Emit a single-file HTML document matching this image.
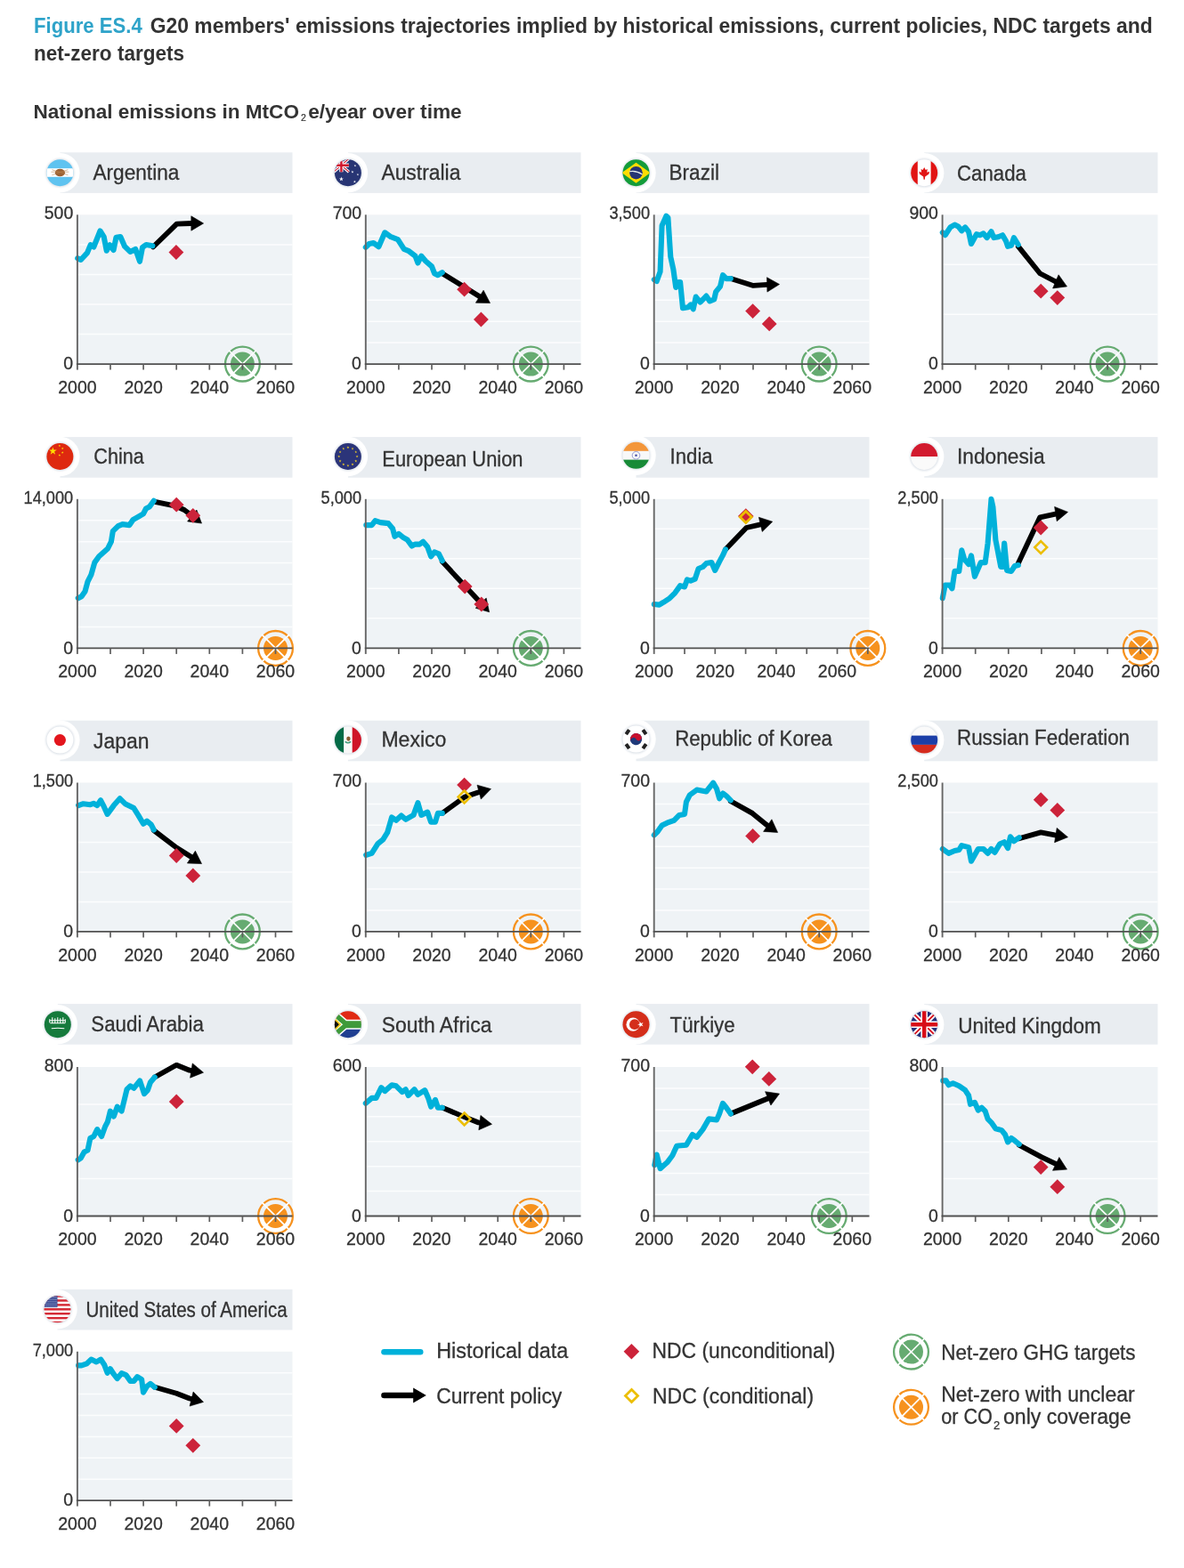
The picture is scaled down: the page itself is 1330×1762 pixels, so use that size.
<!DOCTYPE html>
<html><head><meta charset="utf-8"><title>Figure ES.4</title>
<style>
html,body{margin:0;padding:0;background:#fff;width:1330px;height:1762px;overflow:hidden}
svg{display:block}
text{font-family:"Liberation Sans",Arial,sans-serif}
</style></head><body>
<svg width="1330" height="1762" viewBox="0 0 1330 1762">
<defs><clipPath id="fc"><circle r="15"/></clipPath><filter id="sh" x="-50%" y="-50%" width="200%" height="200%"><feGaussianBlur stdDeviation="1.1"/></filter></defs>
<rect width="1330" height="1762" fill="#fff"/>
<text x="38.00" y="36.60" font-size="23" font-weight="bold" fill="#2ea3c9" textLength="121.73" lengthAdjust="spacingAndGlyphs">Figure ES.4</text>
<text x="168.70" y="36.60" font-size="23" font-weight="bold" fill="#333333" textLength="1126.09" lengthAdjust="spacingAndGlyphs">G20 members' emissions trajectories implied by historical emissions, current policies, NDC targets and</text>
<text x="38.00" y="68.20" font-size="23" font-weight="bold" fill="#333333" textLength="169.04" lengthAdjust="spacingAndGlyphs">net-zero targets</text>
<text x="37.50" y="133.30" font-size="21.5" font-weight="bold" fill="#333333" textLength="298.48" lengthAdjust="spacingAndGlyphs">National emissions in MtCO</text>
<text x="338.0" y="135.9" font-size="10.5" fill="#333" stroke="#333" stroke-width="0.2">2</text>
<text x="346.20" y="133.30" font-size="21.5" font-weight="bold" fill="#333333" textLength="172.52" lengthAdjust="spacingAndGlyphs">e/year over time</text>
<rect x="67.4" y="171.3" width="261.1" height="45.6" fill="#e9edf1"/>
<circle cx="67.4" cy="194.2" r="22.2" fill="#fff"/>
<circle cx="67.4" cy="194.2" r="16.0" fill="#d9dfe6" filter="url(#sh)"/>
<g transform="translate(67.4,194.2)" clip-path="url(#fc)"><rect x="-16" y="-16" width="32" height="32" fill="#5fc3f0"/><rect x="-16" y="-5" width="32" height="9.6" fill="#fff"/><ellipse cx="0" cy="-0.2" rx="5.6" ry="4.3" fill="#9b6133"/><path d="M-10,-1H10M-9,-3.5L9,2.5M-9,2.5L9,-3.5" stroke="#b9824c" stroke-width="0.7" opacity="0.8"/></g>
<text x="104.40" y="202.30" font-size="23.5" stroke="#333333" stroke-width="0.3" fill="#333333" textLength="97.01" lengthAdjust="spacingAndGlyphs">Argentina</text>
<rect x="86.9" y="241.3" width="241.6" height="167.8" fill="#eff3f6"/>
<line x1="87.9" y1="274.9" x2="328.5" y2="274.9" stroke="#fcfdfe" stroke-width="1.5"/>
<line x1="87.9" y1="308.4" x2="328.5" y2="308.4" stroke="#fcfdfe" stroke-width="1.5"/>
<line x1="87.9" y1="342.0" x2="328.5" y2="342.0" stroke="#fcfdfe" stroke-width="1.5"/>
<line x1="87.9" y1="375.5" x2="328.5" y2="375.5" stroke="#fcfdfe" stroke-width="1.5"/>
<circle cx="272.4" cy="409.1" r="19.4" fill="none" stroke="#66ab71" stroke-width="2.3"/><circle cx="272.4" cy="409.1" r="13.5" fill="#66ab71"/><path d="M256.8,393.5L288.0,424.7M288.0,393.5L256.8,424.7" stroke="#fff" stroke-width="1.7"/>
<polyline points="172.0,277.5 198.5,251.7 214.7,251.0 216.3,251.0" fill="none" stroke="#000" stroke-width="5.8" stroke-linejoin="round" stroke-linecap="round"/><polygon points="228.6,251.0 214.8,259.2 214.8,242.8" fill="#000" stroke="#000" stroke-width="0.6" stroke-linejoin="miter"/>
<polyline points="87.2,290.2 90.8,292.0 98.0,284.1 101.7,275.1 105.3,277.5 112.5,259.5 116.7,266.1 119.7,281.7 123.3,275.1 127.5,281.1 130.5,266.7 135.3,266.1 140.1,276.9 146.2,282.9 152.2,279.9 157.0,293.8 160.0,278.1 164.2,275.1 171.4,276.3" fill="none" stroke="#00b1da" stroke-width="6.1" stroke-linejoin="round" stroke-linecap="round"/>
<path d="M197.9,275.1L206.3,283.5L197.9,291.9L189.5,283.5Z" fill="#cc233a"/>
<line x1="86.9" y1="241.3" x2="86.9" y2="415.6" stroke="#666" stroke-width="1.9"/>
<line x1="85.9" y1="409.1" x2="328.5" y2="409.1" stroke="#505050" stroke-width="1.9"/>
<line x1="124.0" y1="409.1" x2="124.0" y2="415.6" stroke="#5e5e5e" stroke-width="1.7"/>
<line x1="161.1" y1="409.1" x2="161.1" y2="415.6" stroke="#5e5e5e" stroke-width="1.7"/>
<line x1="198.2" y1="409.1" x2="198.2" y2="415.6" stroke="#5e5e5e" stroke-width="1.7"/>
<line x1="235.3" y1="409.1" x2="235.3" y2="415.6" stroke="#5e5e5e" stroke-width="1.7"/>
<line x1="272.4" y1="409.1" x2="272.4" y2="415.6" stroke="#5e5e5e" stroke-width="1.7"/>
<line x1="309.5" y1="409.1" x2="309.5" y2="415.6" stroke="#5e5e5e" stroke-width="1.7"/>
<text x="49.74" y="246.10" font-size="19.5" fill="#333333" stroke="#333333" stroke-width="0.3">500</text>
<text x="71.18" y="415.30" font-size="19.5" fill="#333333" stroke="#333333" stroke-width="0.3">0</text>
<text x="65.21" y="441.70" font-size="19.5" fill="#333333" stroke="#333333" stroke-width="0.3">2000</text>
<text x="139.41" y="441.70" font-size="19.5" fill="#333333" stroke="#333333" stroke-width="0.3">2020</text>
<text x="213.61" y="441.70" font-size="19.5" fill="#333333" stroke="#333333" stroke-width="0.3">2040</text>
<text x="287.81" y="441.70" font-size="19.5" fill="#333333" stroke="#333333" stroke-width="0.3">2060</text>
<rect x="390.9" y="171.3" width="261.6" height="45.6" fill="#e9edf1"/>
<circle cx="390.9" cy="194.2" r="22.2" fill="#fff"/>
<circle cx="390.9" cy="194.2" r="16.0" fill="#d9dfe6" filter="url(#sh)"/>
<g transform="translate(390.9,194.2)" clip-path="url(#fc)"><rect x="-16" y="-16" width="32" height="32" fill="#283574"/><path d="M-16,-16L1,-1M1,-16L-16,-1" stroke="#fff" stroke-width="3.2"/><path d="M-16,-16L1,-1M1,-16L-16,-1" stroke="#d0142c" stroke-width="1.1"/><path d="M-7.5,-16V-1M-16,-8.5H1" stroke="#fff" stroke-width="4.2"/><path d="M-7.5,-16V-1M-16,-8.5H1" stroke="#d0142c" stroke-width="2.4"/><polygon points="-7.50,4.40 -6.92,6.20 -5.03,6.20 -6.56,7.31 -5.97,9.10 -7.50,7.99 -9.03,9.10 -8.44,7.31 -9.97,6.20 -8.08,6.20" fill="#fff"/><polygon points="5.00,-2.60 5.36,-1.49 6.52,-1.49 5.58,-0.81 5.94,0.29 5.00,-0.39 4.06,0.29 4.42,-0.81 3.48,-1.49 4.64,-1.49" fill="#fff"/><polygon points="11.00,0.70 11.29,1.60 12.24,1.60 11.47,2.15 11.76,3.05 11.00,2.50 10.24,3.05 10.53,2.15 9.76,1.60 10.71,1.60" fill="#fff"/><polygon points="7.50,8.40 7.86,9.51 9.02,9.51 8.08,10.19 8.44,11.29 7.50,10.61 6.56,11.29 6.92,10.19 5.98,9.51 7.14,9.51" fill="#fff"/><polygon points="8.00,-9.40 8.31,-8.43 9.33,-8.43 8.51,-7.83 8.82,-6.87 8.00,-7.47 7.18,-6.87 7.49,-7.83 6.67,-8.43 7.69,-8.43" fill="#fff"/></g>
<text x="428.40" y="202.30" font-size="23.5" stroke="#333333" stroke-width="0.3" fill="#333333" textLength="89.00" lengthAdjust="spacingAndGlyphs">Australia</text>
<rect x="410.8" y="241.3" width="241.7" height="167.8" fill="#eff3f6"/>
<line x1="411.8" y1="265.3" x2="652.5" y2="265.3" stroke="#fcfdfe" stroke-width="1.5"/>
<line x1="411.8" y1="289.2" x2="652.5" y2="289.2" stroke="#fcfdfe" stroke-width="1.5"/>
<line x1="411.8" y1="313.2" x2="652.5" y2="313.2" stroke="#fcfdfe" stroke-width="1.5"/>
<line x1="411.8" y1="337.2" x2="652.5" y2="337.2" stroke="#fcfdfe" stroke-width="1.5"/>
<line x1="411.8" y1="361.2" x2="652.5" y2="361.2" stroke="#fcfdfe" stroke-width="1.5"/>
<line x1="411.8" y1="385.1" x2="652.5" y2="385.1" stroke="#fcfdfe" stroke-width="1.5"/>
<circle cx="596.3" cy="409.1" r="19.4" fill="none" stroke="#66ab71" stroke-width="2.3"/><circle cx="596.3" cy="409.1" r="13.5" fill="#66ab71"/><path d="M580.7,393.5L611.9,424.7M611.9,393.5L580.7,424.7" stroke="#fff" stroke-width="1.7"/>
<polyline points="496.8,307.2 540.0,334.0" fill="none" stroke="#000" stroke-width="5.8" stroke-linejoin="round" stroke-linecap="round"/><polygon points="550.5,340.5 534.4,340.2 543.1,326.2" fill="#000" stroke="#000" stroke-width="0.6" stroke-linejoin="miter"/>
<polyline points="410.8,277.9 414.7,274.0 419.6,273.0 425.4,277.3 432.3,261.3 439.1,266.2 446.9,269.1 453.8,279.9 458.7,281.8 466.5,287.7 469.4,295.5 473.3,287.7 478.2,293.5 485.0,299.4 488.0,307.2 491.9,309.2 496.8,306.2" fill="none" stroke="#00b1da" stroke-width="6.1" stroke-linejoin="round" stroke-linecap="round"/>
<path d="M521.6,316.8L530.0,325.2L521.6,333.6L513.2,325.2Z" fill="#cc233a"/>
<path d="M540.4,350.6L548.8,359.0L540.4,367.4L532.0,359.0Z" fill="#cc233a"/>
<line x1="410.8" y1="241.3" x2="410.8" y2="415.6" stroke="#666" stroke-width="1.9"/>
<line x1="409.8" y1="409.1" x2="652.5" y2="409.1" stroke="#505050" stroke-width="1.9"/>
<line x1="447.9" y1="409.1" x2="447.9" y2="415.6" stroke="#5e5e5e" stroke-width="1.7"/>
<line x1="485.0" y1="409.1" x2="485.0" y2="415.6" stroke="#5e5e5e" stroke-width="1.7"/>
<line x1="522.1" y1="409.1" x2="522.1" y2="415.6" stroke="#5e5e5e" stroke-width="1.7"/>
<line x1="559.2" y1="409.1" x2="559.2" y2="415.6" stroke="#5e5e5e" stroke-width="1.7"/>
<line x1="596.3" y1="409.1" x2="596.3" y2="415.6" stroke="#5e5e5e" stroke-width="1.7"/>
<line x1="633.4" y1="409.1" x2="633.4" y2="415.6" stroke="#5e5e5e" stroke-width="1.7"/>
<text x="373.63" y="246.10" font-size="19.5" fill="#333333" stroke="#333333" stroke-width="0.3">700</text>
<text x="395.08" y="415.30" font-size="19.5" fill="#333333" stroke="#333333" stroke-width="0.3">0</text>
<text x="389.11" y="441.70" font-size="19.5" fill="#333333" stroke="#333333" stroke-width="0.3">2000</text>
<text x="463.31" y="441.70" font-size="19.5" fill="#333333" stroke="#333333" stroke-width="0.3">2020</text>
<text x="537.51" y="441.70" font-size="19.5" fill="#333333" stroke="#333333" stroke-width="0.3">2040</text>
<text x="611.71" y="441.70" font-size="19.5" fill="#333333" stroke="#333333" stroke-width="0.3">2060</text>
<rect x="714.5" y="171.3" width="262.0" height="45.6" fill="#e9edf1"/>
<circle cx="714.5" cy="194.2" r="22.2" fill="#fff"/>
<circle cx="714.5" cy="194.2" r="16.0" fill="#d9dfe6" filter="url(#sh)"/>
<g transform="translate(714.5,194.2)" clip-path="url(#fc)"><rect x="-16" y="-16" width="32" height="32" fill="#139c3a"/><path d="M-16,0L0,-11.5L16,0L0,11.5Z" fill="#fedd00"/><circle r="7.3" fill="#263574"/><path d="M-7.3,-1.5Q0,-3 7,1.8" stroke="#e8f0f0" stroke-width="1.1" fill="none"/></g>
<text x="751.60" y="202.30" font-size="23.5" stroke="#333333" stroke-width="0.3" fill="#333333" textLength="56.31" lengthAdjust="spacingAndGlyphs">Brazil</text>
<rect x="734.7" y="241.3" width="241.8" height="167.8" fill="#eff3f6"/>
<line x1="735.7" y1="265.3" x2="976.5" y2="265.3" stroke="#fcfdfe" stroke-width="1.5"/>
<line x1="735.7" y1="289.2" x2="976.5" y2="289.2" stroke="#fcfdfe" stroke-width="1.5"/>
<line x1="735.7" y1="313.2" x2="976.5" y2="313.2" stroke="#fcfdfe" stroke-width="1.5"/>
<line x1="735.7" y1="337.2" x2="976.5" y2="337.2" stroke="#fcfdfe" stroke-width="1.5"/>
<line x1="735.7" y1="361.2" x2="976.5" y2="361.2" stroke="#fcfdfe" stroke-width="1.5"/>
<line x1="735.7" y1="385.1" x2="976.5" y2="385.1" stroke="#fcfdfe" stroke-width="1.5"/>
<circle cx="920.2" cy="409.1" r="19.4" fill="none" stroke="#66ab71" stroke-width="2.3"/><circle cx="920.2" cy="409.1" r="13.5" fill="#66ab71"/><path d="M904.6,393.5L935.8,424.7M935.8,393.5L904.6,424.7" stroke="#fff" stroke-width="1.7"/>
<polyline points="820.8,313.1 846.2,320.9 861.8,319.9 863.2,319.9" fill="none" stroke="#000" stroke-width="5.8" stroke-linejoin="round" stroke-linecap="round"/><polygon points="875.5,319.5 861.9,328.1 861.5,311.7" fill="#000" stroke="#000" stroke-width="0.6" stroke-linejoin="miter"/>
<polyline points="734.8,314.1 737.7,316.0 741.6,305.3 743.6,253.5 748.4,242.7 750.4,244.7 753.3,288.7 756.3,302.3 759.2,322.9 762.1,317.0 764.1,317.0 767.0,346.3 772.9,345.3 775.8,342.4 778.7,347.3 781.7,333.6 786.6,339.5 790.5,335.6 793.4,332.6 797.3,338.5 802.2,336.5 804.2,327.8 809.0,321.9 812.0,309.2 815.9,313.1 820.8,313.1" fill="none" stroke="#00b1da" stroke-width="6.1" stroke-linejoin="round" stroke-linecap="round"/>
<path d="M845.6,341.2L854.0,349.6L845.6,358.0L837.2,349.6Z" fill="#cc233a"/>
<path d="M864.2,355.5L872.6,363.9L864.2,372.3L855.8,363.9Z" fill="#cc233a"/>
<line x1="734.7" y1="241.3" x2="734.7" y2="415.6" stroke="#666" stroke-width="1.9"/>
<line x1="733.7" y1="409.1" x2="976.5" y2="409.1" stroke="#505050" stroke-width="1.9"/>
<line x1="771.8" y1="409.1" x2="771.8" y2="415.6" stroke="#5e5e5e" stroke-width="1.7"/>
<line x1="808.9" y1="409.1" x2="808.9" y2="415.6" stroke="#5e5e5e" stroke-width="1.7"/>
<line x1="846.0" y1="409.1" x2="846.0" y2="415.6" stroke="#5e5e5e" stroke-width="1.7"/>
<line x1="883.1" y1="409.1" x2="883.1" y2="415.6" stroke="#5e5e5e" stroke-width="1.7"/>
<line x1="920.2" y1="409.1" x2="920.2" y2="415.6" stroke="#5e5e5e" stroke-width="1.7"/>
<line x1="957.3" y1="409.1" x2="957.3" y2="415.6" stroke="#5e5e5e" stroke-width="1.7"/>
<text x="684.43" y="246.10" font-size="19.5" stroke="#333333" stroke-width="0.3" fill="#333333" textLength="45.63" lengthAdjust="spacingAndGlyphs">3,500</text>
<text x="718.98" y="415.30" font-size="19.5" fill="#333333" stroke="#333333" stroke-width="0.3">0</text>
<text x="713.01" y="441.70" font-size="19.5" fill="#333333" stroke="#333333" stroke-width="0.3">2000</text>
<text x="787.21" y="441.70" font-size="19.5" fill="#333333" stroke="#333333" stroke-width="0.3">2020</text>
<text x="861.41" y="441.70" font-size="19.5" fill="#333333" stroke="#333333" stroke-width="0.3">2040</text>
<text x="935.61" y="441.70" font-size="19.5" fill="#333333" stroke="#333333" stroke-width="0.3">2060</text>
<rect x="1038.2" y="171.3" width="262.3" height="45.6" fill="#e9edf1"/>
<circle cx="1038.2" cy="194.2" r="22.2" fill="#fff"/>
<circle cx="1038.2" cy="194.2" r="16.0" fill="#d9dfe6" filter="url(#sh)"/>
<g transform="translate(1038.2,194.2)" clip-path="url(#fc)"><rect x="-16" y="-16" width="32" height="32" fill="#fff"/><rect x="-16" y="-16" width="8.6" height="32" fill="#e11414"/><rect x="7.4" y="-16" width="8.6" height="32" fill="#e11414"/><path d="M0,-6.3L1.6,-3.3L3.6,-4.2L3.1,-0.4L5.8,-1.4L5.3,1.3L1,4.2L0.6,7.5H-0.6L-1,4.2L-5.3,1.3L-5.8,-1.4L-3.1,-0.4L-3.6,-4.2L-1.6,-3.3Z" fill="#e11414"/></g>
<text x="1075.00" y="202.80" font-size="23.5" stroke="#333333" stroke-width="0.3" fill="#333333" textLength="77.86" lengthAdjust="spacingAndGlyphs">Canada</text>
<rect x="1058.6" y="241.3" width="241.9" height="167.8" fill="#eff3f6"/>
<line x1="1059.6" y1="297.2" x2="1300.5" y2="297.2" stroke="#fcfdfe" stroke-width="1.5"/>
<line x1="1059.6" y1="353.2" x2="1300.5" y2="353.2" stroke="#fcfdfe" stroke-width="1.5"/>
<circle cx="1244.1" cy="409.1" r="19.4" fill="none" stroke="#66ab71" stroke-width="2.3"/><circle cx="1244.1" cy="409.1" r="13.5" fill="#66ab71"/><path d="M1228.5,393.5L1259.7,424.7M1259.7,393.5L1228.5,424.7" stroke="#fff" stroke-width="1.7"/>
<polyline points="1143.8,276.9 1168.2,307.2 1184.9,316.0 1187.2,317.0" fill="none" stroke="#000" stroke-width="5.8" stroke-linejoin="round" stroke-linecap="round"/><polygon points="1198.5,321.9 1182.6,324.0 1189.1,308.8" fill="#000" stroke="#000" stroke-width="0.6" stroke-linejoin="miter"/>
<polyline points="1058.8,261.3 1061.7,264.2 1067.5,255.4 1072.4,252.5 1076.3,254.4 1080.3,259.3 1084.2,255.4 1088.1,260.3 1091.0,274.0 1096.9,263.2 1100.8,264.2 1104.7,262.3 1108.6,267.1 1113.5,260.3 1116.4,267.1 1121.3,266.2 1126.2,264.2 1130.1,271.0 1132.1,276.9 1136.0,275.9 1138.9,267.1 1143.8,275.0" fill="none" stroke="#00b1da" stroke-width="6.1" stroke-linejoin="round" stroke-linecap="round"/>
<path d="M1169.2,318.8L1177.6,327.2L1169.2,335.6L1160.8,327.2Z" fill="#cc233a"/>
<path d="M1187.8,326.2L1196.2,334.6L1187.8,343.0L1179.4,334.6Z" fill="#cc233a"/>
<line x1="1058.6" y1="241.3" x2="1058.6" y2="415.6" stroke="#666" stroke-width="1.9"/>
<line x1="1057.6" y1="409.1" x2="1300.5" y2="409.1" stroke="#505050" stroke-width="1.9"/>
<line x1="1095.7" y1="409.1" x2="1095.7" y2="415.6" stroke="#5e5e5e" stroke-width="1.7"/>
<line x1="1132.8" y1="409.1" x2="1132.8" y2="415.6" stroke="#5e5e5e" stroke-width="1.7"/>
<line x1="1169.9" y1="409.1" x2="1169.9" y2="415.6" stroke="#5e5e5e" stroke-width="1.7"/>
<line x1="1207.0" y1="409.1" x2="1207.0" y2="415.6" stroke="#5e5e5e" stroke-width="1.7"/>
<line x1="1244.1" y1="409.1" x2="1244.1" y2="415.6" stroke="#5e5e5e" stroke-width="1.7"/>
<line x1="1281.2" y1="409.1" x2="1281.2" y2="415.6" stroke="#5e5e5e" stroke-width="1.7"/>
<text x="1021.43" y="246.10" font-size="19.5" fill="#333333" stroke="#333333" stroke-width="0.3">900</text>
<text x="1042.88" y="415.30" font-size="19.5" fill="#333333" stroke="#333333" stroke-width="0.3">0</text>
<text x="1036.91" y="441.70" font-size="19.5" fill="#333333" stroke="#333333" stroke-width="0.3">2000</text>
<text x="1111.11" y="441.70" font-size="19.5" fill="#333333" stroke="#333333" stroke-width="0.3">2020</text>
<text x="1185.31" y="441.70" font-size="19.5" fill="#333333" stroke="#333333" stroke-width="0.3">2040</text>
<text x="1259.51" y="441.70" font-size="19.5" fill="#333333" stroke="#333333" stroke-width="0.3">2060</text>
<rect x="67.4" y="491.1" width="261.1" height="45.6" fill="#e9edf1"/>
<circle cx="67.4" cy="513.0" r="22.2" fill="#fff"/>
<circle cx="67.4" cy="513.0" r="16.0" fill="#d9dfe6" filter="url(#sh)"/>
<g transform="translate(67.4,513.0)" clip-path="url(#fc)"><rect x="-16" y="-16" width="32" height="32" fill="#de2910"/><polygon points="-8.00,-10.60 -6.97,-7.42 -3.63,-7.42 -6.33,-5.46 -5.30,-2.28 -8.00,-4.24 -10.70,-2.28 -9.67,-5.46 -12.37,-7.42 -9.03,-7.42" fill="#ffde00"/><polygon points="-0.50,-13.40 -0.19,-12.43 0.83,-12.43 0.01,-11.83 0.32,-10.87 -0.50,-11.47 -1.32,-10.87 -1.01,-11.83 -1.83,-12.43 -0.81,-12.43" fill="#ffde00"/><polygon points="2.80,-10.40 3.11,-9.43 4.13,-9.43 3.31,-8.83 3.62,-7.87 2.80,-8.47 1.98,-7.87 2.29,-8.83 1.47,-9.43 2.49,-9.43" fill="#ffde00"/><polygon points="2.80,-5.90 3.11,-4.93 4.13,-4.93 3.31,-4.33 3.62,-3.37 2.80,-3.97 1.98,-3.37 2.29,-4.33 1.47,-4.93 2.49,-4.93" fill="#ffde00"/><polygon points="-0.50,-2.90 -0.19,-1.93 0.83,-1.93 0.01,-1.33 0.32,-0.37 -0.50,-0.97 -1.32,-0.37 -1.01,-1.33 -1.83,-1.93 -0.81,-1.93" fill="#ffde00"/></g>
<text x="105.30" y="521.20" font-size="23.5" stroke="#333333" stroke-width="0.3" fill="#333333" textLength="56.45" lengthAdjust="spacingAndGlyphs">China</text>
<rect x="86.9" y="560.8" width="241.6" height="167.6" fill="#eff3f6"/>
<line x1="87.9" y1="584.7" x2="328.5" y2="584.7" stroke="#fcfdfe" stroke-width="1.5"/>
<line x1="87.9" y1="608.7" x2="328.5" y2="608.7" stroke="#fcfdfe" stroke-width="1.5"/>
<line x1="87.9" y1="632.6" x2="328.5" y2="632.6" stroke="#fcfdfe" stroke-width="1.5"/>
<line x1="87.9" y1="656.5" x2="328.5" y2="656.5" stroke="#fcfdfe" stroke-width="1.5"/>
<line x1="87.9" y1="680.5" x2="328.5" y2="680.5" stroke="#fcfdfe" stroke-width="1.5"/>
<line x1="87.9" y1="704.4" x2="328.5" y2="704.4" stroke="#fcfdfe" stroke-width="1.5"/>
<circle cx="309.5" cy="728.4" r="19.4" fill="none" stroke="#f6921e" stroke-width="2.3"/><circle cx="309.5" cy="728.4" r="13.5" fill="#f6921e"/><path d="M293.9,712.8L325.1,743.9M325.1,712.8L293.9,743.9" stroke="#fff" stroke-width="1.7"/>
<polyline points="172.8,563.7 197.2,568.6 207.0,573.0 216.8,580.3 216.9,580.4" fill="none" stroke="#000" stroke-width="5.8" stroke-linejoin="round" stroke-linecap="round"/><polygon points="226.5,588.1 210.6,585.9 220.9,573.0" fill="#000" stroke="#000" stroke-width="0.6" stroke-linejoin="miter"/>
<polyline points="87.7,672.2 91.6,670.2 95.6,664.4 98.5,653.6 102.4,645.8 106.3,632.1 111.2,625.3 121.0,616.5 124.9,608.7 126.8,596.9 132.7,591.1 137.6,589.1 145.4,590.1 149.3,584.2 154.2,581.3 161.0,577.4 164.0,571.5 167.9,569.6 172.8,562.7" fill="none" stroke="#00b1da" stroke-width="6.1" stroke-linejoin="round" stroke-linecap="round"/>
<path d="M198.2,558.8L206.6,567.2L198.2,575.6L189.8,567.2Z" fill="#cc233a"/>
<path d="M216.8,570.9L225.2,579.3L216.8,587.7L208.4,579.3Z" fill="#cc233a"/>
<line x1="86.9" y1="560.8" x2="86.9" y2="734.9" stroke="#666" stroke-width="1.9"/>
<line x1="85.9" y1="728.4" x2="328.5" y2="728.4" stroke="#505050" stroke-width="1.9"/>
<line x1="124.0" y1="728.4" x2="124.0" y2="734.9" stroke="#5e5e5e" stroke-width="1.7"/>
<line x1="161.1" y1="728.4" x2="161.1" y2="734.9" stroke="#5e5e5e" stroke-width="1.7"/>
<line x1="198.2" y1="728.4" x2="198.2" y2="734.9" stroke="#5e5e5e" stroke-width="1.7"/>
<line x1="235.3" y1="728.4" x2="235.3" y2="734.9" stroke="#5e5e5e" stroke-width="1.7"/>
<line x1="272.4" y1="728.4" x2="272.4" y2="734.9" stroke="#5e5e5e" stroke-width="1.7"/>
<line x1="309.5" y1="728.4" x2="309.5" y2="734.9" stroke="#5e5e5e" stroke-width="1.7"/>
<text x="26.51" y="565.60" font-size="19.5" stroke="#333333" stroke-width="0.3" fill="#333333" textLength="55.77" lengthAdjust="spacingAndGlyphs">14,000</text>
<text x="71.18" y="734.55" font-size="19.5" fill="#333333" stroke="#333333" stroke-width="0.3">0</text>
<text x="65.21" y="760.95" font-size="19.5" fill="#333333" stroke="#333333" stroke-width="0.3">2000</text>
<text x="139.41" y="760.95" font-size="19.5" fill="#333333" stroke="#333333" stroke-width="0.3">2020</text>
<text x="213.61" y="760.95" font-size="19.5" fill="#333333" stroke="#333333" stroke-width="0.3">2040</text>
<text x="287.81" y="760.95" font-size="19.5" fill="#333333" stroke="#333333" stroke-width="0.3">2060</text>
<rect x="390.9" y="491.1" width="261.6" height="45.6" fill="#e9edf1"/>
<circle cx="390.9" cy="513.0" r="22.2" fill="#fff"/>
<circle cx="390.9" cy="513.0" r="16.0" fill="#d9dfe6" filter="url(#sh)"/>
<g transform="translate(390.9,513.0)" clip-path="url(#fc)"><rect x="-16" y="-16" width="32" height="32" fill="#2b3479"/><polygon points="0.00,-11.80 0.36,-10.69 1.52,-10.69 0.58,-10.01 0.94,-8.91 0.00,-9.59 -0.94,-8.91 -0.58,-10.01 -1.52,-10.69 -0.36,-10.69" fill="#e8c82a"/><polygon points="5.10,-10.43 5.46,-9.33 6.62,-9.33 5.68,-8.64 6.04,-7.54 5.10,-8.22 4.16,-7.54 4.52,-8.64 3.58,-9.33 4.74,-9.33" fill="#e8c82a"/><polygon points="8.83,-6.70 9.19,-5.59 10.36,-5.59 9.41,-4.91 9.77,-3.81 8.83,-4.49 7.89,-3.81 8.25,-4.91 7.31,-5.59 8.47,-5.59" fill="#e8c82a"/><polygon points="10.20,-1.60 10.56,-0.49 11.72,-0.49 10.78,0.19 11.14,1.29 10.20,0.61 9.26,1.29 9.62,0.19 8.68,-0.49 9.84,-0.49" fill="#e8c82a"/><polygon points="8.83,3.50 9.19,4.61 10.36,4.61 9.41,5.29 9.77,6.39 8.83,5.71 7.89,6.39 8.25,5.29 7.31,4.61 8.47,4.61" fill="#e8c82a"/><polygon points="5.10,7.23 5.46,8.34 6.62,8.34 5.68,9.02 6.04,10.13 5.10,9.44 4.16,10.13 4.52,9.02 3.58,8.34 4.74,8.34" fill="#e8c82a"/><polygon points="0.00,8.60 0.36,9.71 1.52,9.71 0.58,10.39 0.94,11.49 0.00,10.81 -0.94,11.49 -0.58,10.39 -1.52,9.71 -0.36,9.71" fill="#e8c82a"/><polygon points="-5.10,7.23 -4.74,8.34 -3.58,8.34 -4.52,9.02 -4.16,10.13 -5.10,9.44 -6.04,10.13 -5.68,9.02 -6.62,8.34 -5.46,8.34" fill="#e8c82a"/><polygon points="-8.83,3.50 -8.47,4.61 -7.31,4.61 -8.25,5.29 -7.89,6.39 -8.83,5.71 -9.77,6.39 -9.41,5.29 -10.36,4.61 -9.19,4.61" fill="#e8c82a"/><polygon points="-10.20,-1.60 -9.84,-0.49 -8.68,-0.49 -9.62,0.19 -9.26,1.29 -10.20,0.61 -11.14,1.29 -10.78,0.19 -11.72,-0.49 -10.56,-0.49" fill="#e8c82a"/><polygon points="-8.83,-6.70 -8.47,-5.59 -7.31,-5.59 -8.25,-4.91 -7.89,-3.81 -8.83,-4.49 -9.77,-3.81 -9.41,-4.91 -10.36,-5.59 -9.19,-5.59" fill="#e8c82a"/><polygon points="-5.10,-10.43 -4.74,-9.33 -3.58,-9.33 -4.52,-8.64 -4.16,-7.54 -5.10,-8.22 -6.04,-7.54 -5.68,-8.64 -6.62,-9.33 -5.46,-9.33" fill="#e8c82a"/></g>
<text x="429.30" y="523.50" font-size="23.5" stroke="#333333" stroke-width="0.3" fill="#333333" textLength="158.25" lengthAdjust="spacingAndGlyphs">European Union</text>
<rect x="410.8" y="560.8" width="241.7" height="167.6" fill="#eff3f6"/>
<line x1="411.8" y1="594.3" x2="652.5" y2="594.3" stroke="#fcfdfe" stroke-width="1.5"/>
<line x1="411.8" y1="627.8" x2="652.5" y2="627.8" stroke="#fcfdfe" stroke-width="1.5"/>
<line x1="411.8" y1="661.3" x2="652.5" y2="661.3" stroke="#fcfdfe" stroke-width="1.5"/>
<line x1="411.8" y1="694.8" x2="652.5" y2="694.8" stroke="#fcfdfe" stroke-width="1.5"/>
<circle cx="596.3" cy="728.4" r="19.4" fill="none" stroke="#66ab71" stroke-width="2.3"/><circle cx="596.3" cy="728.4" r="13.5" fill="#66ab71"/><path d="M580.7,712.8L611.9,743.9M611.9,712.8L580.7,743.9" stroke="#fff" stroke-width="1.7"/>
<polyline points="496.8,631.1 541.2,678.8" fill="none" stroke="#000" stroke-width="5.8" stroke-linejoin="round" stroke-linecap="round"/><polygon points="549.6,687.8 534.2,683.3 546.2,672.1" fill="#000" stroke="#000" stroke-width="0.6" stroke-linejoin="miter"/>
<polyline points="411.3,590.1 417.6,590.1 421.5,585.2 427.4,587.1 436.2,588.1 441.1,594.0 443.4,602.8 447.9,599.9 452.8,603.8 457.7,606.7 462.6,613.5 466.5,611.6 471.4,611.6 475.3,608.7 480.2,614.5 484.1,625.3 488.0,620.4 492.9,622.3 496.8,630.2" fill="none" stroke="#00b1da" stroke-width="6.1" stroke-linejoin="round" stroke-linecap="round"/>
<path d="M522.2,650.7L530.6,659.1L522.2,667.5L513.8,659.1Z" fill="#cc233a"/>
<path d="M540.8,670.6L549.2,679.0L540.8,687.4L532.4,679.0Z" fill="#cc233a"/>
<line x1="410.8" y1="560.8" x2="410.8" y2="734.9" stroke="#666" stroke-width="1.9"/>
<line x1="409.8" y1="728.4" x2="652.5" y2="728.4" stroke="#505050" stroke-width="1.9"/>
<line x1="447.9" y1="728.4" x2="447.9" y2="734.9" stroke="#5e5e5e" stroke-width="1.7"/>
<line x1="485.0" y1="728.4" x2="485.0" y2="734.9" stroke="#5e5e5e" stroke-width="1.7"/>
<line x1="522.1" y1="728.4" x2="522.1" y2="734.9" stroke="#5e5e5e" stroke-width="1.7"/>
<line x1="559.2" y1="728.4" x2="559.2" y2="734.9" stroke="#5e5e5e" stroke-width="1.7"/>
<line x1="596.3" y1="728.4" x2="596.3" y2="734.9" stroke="#5e5e5e" stroke-width="1.7"/>
<line x1="633.4" y1="728.4" x2="633.4" y2="734.9" stroke="#5e5e5e" stroke-width="1.7"/>
<text x="360.53" y="565.60" font-size="19.5" stroke="#333333" stroke-width="0.3" fill="#333333" textLength="45.63" lengthAdjust="spacingAndGlyphs">5,000</text>
<text x="395.08" y="734.55" font-size="19.5" fill="#333333" stroke="#333333" stroke-width="0.3">0</text>
<text x="389.11" y="760.95" font-size="19.5" fill="#333333" stroke="#333333" stroke-width="0.3">2000</text>
<text x="463.31" y="760.95" font-size="19.5" fill="#333333" stroke="#333333" stroke-width="0.3">2020</text>
<text x="537.51" y="760.95" font-size="19.5" fill="#333333" stroke="#333333" stroke-width="0.3">2040</text>
<text x="611.71" y="760.95" font-size="19.5" fill="#333333" stroke="#333333" stroke-width="0.3">2060</text>
<rect x="714.5" y="491.1" width="262.0" height="45.6" fill="#e9edf1"/>
<circle cx="714.5" cy="511.8" r="22.2" fill="#fff"/>
<circle cx="714.5" cy="511.8" r="16.0" fill="#d9dfe6" filter="url(#sh)"/>
<g transform="translate(714.5,511.8)" clip-path="url(#fc)"><rect x="-16" y="-16" width="32" height="32" fill="#f8f8f8"/><rect x="-16" y="-16" width="32" height="11" fill="#f3963a"/><rect x="-16" y="4.8" width="32" height="12" fill="#178a37"/><circle r="4.3" fill="none" stroke="#8a8fd0" stroke-width="0.9"/><circle r="1.3" fill="#4a52a8"/></g>
<text x="752.60" y="521.20" font-size="23.5" stroke="#333333" stroke-width="0.3" fill="#333333" textLength="48.07" lengthAdjust="spacingAndGlyphs">India</text>
<rect x="734.7" y="560.8" width="241.8" height="167.6" fill="#eff3f6"/>
<line x1="735.7" y1="594.3" x2="976.5" y2="594.3" stroke="#fcfdfe" stroke-width="1.5"/>
<line x1="735.7" y1="627.8" x2="976.5" y2="627.8" stroke="#fcfdfe" stroke-width="1.5"/>
<line x1="735.7" y1="661.3" x2="976.5" y2="661.3" stroke="#fcfdfe" stroke-width="1.5"/>
<line x1="735.7" y1="694.8" x2="976.5" y2="694.8" stroke="#fcfdfe" stroke-width="1.5"/>
<circle cx="974.8" cy="728.4" r="19.4" fill="none" stroke="#f6921e" stroke-width="2.3"/><circle cx="974.8" cy="728.4" r="13.5" fill="#f6921e"/><path d="M959.2,712.8L990.4,743.9M990.4,712.8L959.2,743.9" stroke="#fff" stroke-width="1.7"/>
<polyline points="814.9,617.4 838.4,593.0 851.1,590.1 855.7,589.0" fill="none" stroke="#000" stroke-width="5.8" stroke-linejoin="round" stroke-linecap="round"/><polygon points="867.7,586.2 856.2,597.4 852.4,581.3" fill="#000" stroke="#000" stroke-width="0.6" stroke-linejoin="miter"/>
<polyline points="734.8,679.0 740.6,679.6 745.5,676.7 752.3,672.2 758.2,666.3 764.1,658.1 769.0,659.5 771.9,651.3 775.8,652.6 780.7,650.7 784.6,639.0 789.5,637.0 793.4,633.1 799.3,632.1 803.2,640.9 808.1,631.1 812.0,623.9 814.9,617.4" fill="none" stroke="#00b1da" stroke-width="6.1" stroke-linejoin="round" stroke-linecap="round"/>
<path d="M837.8,571.2L846.6,580.0L837.8,588.8L829.0,580.0Z" fill="#cc233a"/>
<path d="M837.8,574.4L844.3,580.9L837.8,587.4L831.3,580.9Z" fill="none" stroke="#ecbe00" stroke-width="2.8" stroke-linejoin="miter"/>
<line x1="734.7" y1="560.8" x2="734.7" y2="734.9" stroke="#666" stroke-width="1.9"/>
<line x1="733.7" y1="728.4" x2="976.5" y2="728.4" stroke="#505050" stroke-width="1.9"/>
<line x1="769.0" y1="728.4" x2="769.0" y2="734.9" stroke="#5e5e5e" stroke-width="1.7"/>
<line x1="803.3" y1="728.4" x2="803.3" y2="734.9" stroke="#5e5e5e" stroke-width="1.7"/>
<line x1="837.6" y1="728.4" x2="837.6" y2="734.9" stroke="#5e5e5e" stroke-width="1.7"/>
<line x1="871.9" y1="728.4" x2="871.9" y2="734.9" stroke="#5e5e5e" stroke-width="1.7"/>
<line x1="906.2" y1="728.4" x2="906.2" y2="734.9" stroke="#5e5e5e" stroke-width="1.7"/>
<line x1="940.5" y1="728.4" x2="940.5" y2="734.9" stroke="#5e5e5e" stroke-width="1.7"/>
<line x1="974.8" y1="728.4" x2="974.8" y2="734.9" stroke="#5e5e5e" stroke-width="1.7"/>
<text x="684.43" y="565.60" font-size="19.5" stroke="#333333" stroke-width="0.3" fill="#333333" textLength="45.63" lengthAdjust="spacingAndGlyphs">5,000</text>
<text x="718.98" y="734.55" font-size="19.5" fill="#333333" stroke="#333333" stroke-width="0.3">0</text>
<text x="713.01" y="760.95" font-size="19.5" fill="#333333" stroke="#333333" stroke-width="0.3">2000</text>
<text x="781.61" y="760.95" font-size="19.5" fill="#333333" stroke="#333333" stroke-width="0.3">2020</text>
<text x="850.21" y="760.95" font-size="19.5" fill="#333333" stroke="#333333" stroke-width="0.3">2040</text>
<text x="918.81" y="760.95" font-size="19.5" fill="#333333" stroke="#333333" stroke-width="0.3">2060</text>
<rect x="1038.2" y="491.1" width="262.3" height="45.6" fill="#e9edf1"/>
<circle cx="1038.2" cy="513.0" r="22.2" fill="#fff"/>
<circle cx="1038.2" cy="513.0" r="16.0" fill="#d9dfe6" filter="url(#sh)"/>
<g transform="translate(1038.2,513.0)" clip-path="url(#fc)"><rect x="-16" y="-16" width="32" height="32" fill="#fafafa"/><rect x="-16" y="-16" width="32" height="16" fill="#d21a2e"/></g>
<text x="1075.00" y="521.20" font-size="23.5" stroke="#333333" stroke-width="0.3" fill="#333333" textLength="98.53" lengthAdjust="spacingAndGlyphs">Indonesia</text>
<rect x="1058.6" y="560.8" width="241.9" height="167.6" fill="#eff3f6"/>
<line x1="1059.6" y1="594.3" x2="1300.5" y2="594.3" stroke="#fcfdfe" stroke-width="1.5"/>
<line x1="1059.6" y1="627.8" x2="1300.5" y2="627.8" stroke="#fcfdfe" stroke-width="1.5"/>
<line x1="1059.6" y1="661.3" x2="1300.5" y2="661.3" stroke="#fcfdfe" stroke-width="1.5"/>
<line x1="1059.6" y1="694.8" x2="1300.5" y2="694.8" stroke="#fcfdfe" stroke-width="1.5"/>
<circle cx="1281.2" cy="728.4" r="19.4" fill="none" stroke="#f6921e" stroke-width="2.3"/><circle cx="1281.2" cy="728.4" r="13.5" fill="#f6921e"/><path d="M1265.6,712.8L1296.8,743.9M1296.8,712.8L1265.6,743.9" stroke="#fff" stroke-width="1.7"/>
<polyline points="1143.8,633.1 1168.2,581.3 1186.8,577.4 1187.3,577.3" fill="none" stroke="#000" stroke-width="5.8" stroke-linejoin="round" stroke-linecap="round"/><polygon points="1199.5,575.4 1187.2,585.7 1184.6,569.4" fill="#000" stroke="#000" stroke-width="0.6" stroke-linejoin="miter"/>
<polyline points="1058.8,672.2 1061.7,657.5 1066.6,657.5 1069.5,661.4 1072.4,641.9 1077.3,641.9 1080.3,618.4 1083.2,628.2 1088.1,634.1 1091.0,624.3 1094.9,647.8 1101.8,632.1 1106.7,632.1 1109.6,610.6 1113.5,560.8 1115.4,569.6 1118.4,606.7 1124.2,637.0 1126.2,637.0 1128.2,610.6 1131.1,640.9 1136.0,641.9 1139.9,636.0 1143.8,635.0" fill="none" stroke="#00b1da" stroke-width="6.1" stroke-linejoin="round" stroke-linecap="round"/>
<path d="M1169.2,584.6L1177.6,593.0L1169.2,601.4L1160.8,593.0Z" fill="#cc233a"/>
<path d="M1169.2,608.2L1176.1,615.1L1169.2,622.0L1162.3,615.1Z" fill="none" stroke="#ecbe00" stroke-width="2.6" stroke-linejoin="miter"/>
<line x1="1058.6" y1="560.8" x2="1058.6" y2="734.9" stroke="#666" stroke-width="1.9"/>
<line x1="1057.6" y1="728.4" x2="1300.5" y2="728.4" stroke="#505050" stroke-width="1.9"/>
<line x1="1095.7" y1="728.4" x2="1095.7" y2="734.9" stroke="#5e5e5e" stroke-width="1.7"/>
<line x1="1132.8" y1="728.4" x2="1132.8" y2="734.9" stroke="#5e5e5e" stroke-width="1.7"/>
<line x1="1169.9" y1="728.4" x2="1169.9" y2="734.9" stroke="#5e5e5e" stroke-width="1.7"/>
<line x1="1207.0" y1="728.4" x2="1207.0" y2="734.9" stroke="#5e5e5e" stroke-width="1.7"/>
<line x1="1244.1" y1="728.4" x2="1244.1" y2="734.9" stroke="#5e5e5e" stroke-width="1.7"/>
<line x1="1281.2" y1="728.4" x2="1281.2" y2="734.9" stroke="#5e5e5e" stroke-width="1.7"/>
<text x="1008.33" y="565.60" font-size="19.5" stroke="#333333" stroke-width="0.3" fill="#333333" textLength="45.63" lengthAdjust="spacingAndGlyphs">2,500</text>
<text x="1042.88" y="734.55" font-size="19.5" fill="#333333" stroke="#333333" stroke-width="0.3">0</text>
<text x="1036.91" y="760.95" font-size="19.5" fill="#333333" stroke="#333333" stroke-width="0.3">2000</text>
<text x="1111.11" y="760.95" font-size="19.5" fill="#333333" stroke="#333333" stroke-width="0.3">2020</text>
<text x="1185.31" y="760.95" font-size="19.5" fill="#333333" stroke="#333333" stroke-width="0.3">2040</text>
<text x="1259.51" y="760.95" font-size="19.5" fill="#333333" stroke="#333333" stroke-width="0.3">2060</text>
<rect x="67.4" y="809.7" width="261.1" height="45.6" fill="#e9edf1"/>
<circle cx="67.4" cy="831.6" r="22.2" fill="#fff"/>
<circle cx="67.4" cy="831.6" r="16.0" fill="#d9dfe6" filter="url(#sh)"/>
<g transform="translate(67.4,831.6)" clip-path="url(#fc)"><rect x="-16" y="-16" width="32" height="32" fill="#fff"/><circle r="6.6" fill="#e3161d"/></g>
<text x="105.00" y="841.20" font-size="23.5" stroke="#333333" stroke-width="0.3" fill="#333333" textLength="62.49" lengthAdjust="spacingAndGlyphs">Japan</text>
<rect x="86.9" y="879.5" width="241.6" height="167.4" fill="#eff3f6"/>
<line x1="87.9" y1="913.0" x2="328.5" y2="913.0" stroke="#fcfdfe" stroke-width="1.5"/>
<line x1="87.9" y1="946.5" x2="328.5" y2="946.5" stroke="#fcfdfe" stroke-width="1.5"/>
<line x1="87.9" y1="979.9" x2="328.5" y2="979.9" stroke="#fcfdfe" stroke-width="1.5"/>
<line x1="87.9" y1="1013.4" x2="328.5" y2="1013.4" stroke="#fcfdfe" stroke-width="1.5"/>
<circle cx="272.4" cy="1046.9" r="19.4" fill="none" stroke="#66ab71" stroke-width="2.3"/><circle cx="272.4" cy="1046.9" r="13.5" fill="#66ab71"/><path d="M256.8,1031.3L288.0,1062.5M288.0,1031.3L256.8,1062.5" stroke="#fff" stroke-width="1.7"/>
<polyline points="172.8,933.1 198.2,952.5 212.9,961.8 216.2,963.9" fill="none" stroke="#000" stroke-width="5.8" stroke-linejoin="round" stroke-linecap="round"/><polygon points="226.5,970.6 210.4,970.0 219.4,956.2" fill="#000" stroke="#000" stroke-width="0.6" stroke-linejoin="miter"/>
<polyline points="88.1,905.1 93.6,903.2 101.4,904.2 105.3,902.8 109.2,905.1 113.1,899.3 116.1,905.1 120.6,914.9 127.8,905.1 134.7,897.3 140.5,903.2 150.3,908.1 155.2,915.9 161.0,925.7 165.0,922.7 169.8,926.7 172.8,932.5" fill="none" stroke="#00b1da" stroke-width="6.1" stroke-linejoin="round" stroke-linecap="round"/>
<path d="M198.2,953.1L206.6,961.5L198.2,969.9L189.8,961.5Z" fill="#cc233a"/>
<path d="M216.8,975.5L225.2,983.9L216.8,992.3L208.4,983.9Z" fill="#cc233a"/>
<line x1="86.9" y1="879.5" x2="86.9" y2="1053.4" stroke="#666" stroke-width="1.9"/>
<line x1="85.9" y1="1046.9" x2="328.5" y2="1046.9" stroke="#505050" stroke-width="1.9"/>
<line x1="124.0" y1="1046.9" x2="124.0" y2="1053.4" stroke="#5e5e5e" stroke-width="1.7"/>
<line x1="161.1" y1="1046.9" x2="161.1" y2="1053.4" stroke="#5e5e5e" stroke-width="1.7"/>
<line x1="198.2" y1="1046.9" x2="198.2" y2="1053.4" stroke="#5e5e5e" stroke-width="1.7"/>
<line x1="235.3" y1="1046.9" x2="235.3" y2="1053.4" stroke="#5e5e5e" stroke-width="1.7"/>
<line x1="272.4" y1="1046.9" x2="272.4" y2="1053.4" stroke="#5e5e5e" stroke-width="1.7"/>
<line x1="309.5" y1="1046.9" x2="309.5" y2="1053.4" stroke="#5e5e5e" stroke-width="1.7"/>
<text x="36.63" y="884.30" font-size="19.5" stroke="#333333" stroke-width="0.3" fill="#333333" textLength="45.63" lengthAdjust="spacingAndGlyphs">1,500</text>
<text x="71.18" y="1053.10" font-size="19.5" fill="#333333" stroke="#333333" stroke-width="0.3">0</text>
<text x="65.21" y="1079.50" font-size="19.5" fill="#333333" stroke="#333333" stroke-width="0.3">2000</text>
<text x="139.41" y="1079.50" font-size="19.5" fill="#333333" stroke="#333333" stroke-width="0.3">2020</text>
<text x="213.61" y="1079.50" font-size="19.5" fill="#333333" stroke="#333333" stroke-width="0.3">2040</text>
<text x="287.81" y="1079.50" font-size="19.5" fill="#333333" stroke="#333333" stroke-width="0.3">2060</text>
<rect x="390.9" y="809.7" width="261.6" height="45.6" fill="#e9edf1"/>
<circle cx="390.9" cy="831.6" r="22.2" fill="#fff"/>
<circle cx="390.9" cy="831.6" r="16.0" fill="#d9dfe6" filter="url(#sh)"/>
<g transform="translate(390.9,831.6)" clip-path="url(#fc)"><rect x="-16" y="-16" width="32" height="32" fill="#f8f8f8"/><rect x="-16" y="-16" width="11.2" height="32" fill="#046a46"/><rect x="4.8" y="-16" width="11.2" height="32" fill="#cf1427"/><ellipse cx="0.5" cy="-1.5" rx="2.2" ry="2.6" fill="#8a5a30"/><path d="M-3.2,1.8Q0,4.5 3.2,1.8" stroke="#3f9a7a" stroke-width="1.4" fill="none"/></g>
<text x="428.40" y="839.40" font-size="23.5" stroke="#333333" stroke-width="0.3" fill="#333333" textLength="73.04" lengthAdjust="spacingAndGlyphs">Mexico</text>
<rect x="410.8" y="879.5" width="241.7" height="167.4" fill="#eff3f6"/>
<line x1="411.8" y1="903.4" x2="652.5" y2="903.4" stroke="#fcfdfe" stroke-width="1.5"/>
<line x1="411.8" y1="927.3" x2="652.5" y2="927.3" stroke="#fcfdfe" stroke-width="1.5"/>
<line x1="411.8" y1="951.2" x2="652.5" y2="951.2" stroke="#fcfdfe" stroke-width="1.5"/>
<line x1="411.8" y1="975.2" x2="652.5" y2="975.2" stroke="#fcfdfe" stroke-width="1.5"/>
<line x1="411.8" y1="999.1" x2="652.5" y2="999.1" stroke="#fcfdfe" stroke-width="1.5"/>
<line x1="411.8" y1="1023.0" x2="652.5" y2="1023.0" stroke="#fcfdfe" stroke-width="1.5"/>
<circle cx="596.3" cy="1046.9" r="19.4" fill="none" stroke="#f6921e" stroke-width="2.3"/><circle cx="596.3" cy="1046.9" r="13.5" fill="#f6921e"/><path d="M580.7,1031.3L611.9,1062.5M611.9,1031.3L580.7,1062.5" stroke="#fff" stroke-width="1.7"/>
<polyline points="496.8,913.9 522.2,895.4 536.9,890.5 539.6,889.8" fill="none" stroke="#000" stroke-width="5.8" stroke-linejoin="round" stroke-linecap="round"/><polygon points="551.5,886.6 540.3,898.1 536.0,882.2" fill="#000" stroke="#000" stroke-width="0.6" stroke-linejoin="miter"/>
<polyline points="411.2,960.9 417.6,958.9 424.4,948.2 430.3,943.3 435.2,935.4 440.1,918.4 445.0,921.8 450.8,916.5 455.7,920.8 464.5,915.9 469.4,902.2 473.3,915.9 480.2,912.6 484.1,923.7 489.0,923.7 491.9,913.9 496.8,913.9" fill="none" stroke="#00b1da" stroke-width="6.1" stroke-linejoin="round" stroke-linecap="round"/>
<path d="M521.6,873.7L530.0,882.1L521.6,890.5L513.2,882.1Z" fill="#cc233a"/>
<path d="M521.6,888.5L528.5,895.4L521.6,902.3L514.7,895.4Z" fill="none" stroke="#ecbe00" stroke-width="2.6" stroke-linejoin="miter"/>
<line x1="410.8" y1="879.5" x2="410.8" y2="1053.4" stroke="#666" stroke-width="1.9"/>
<line x1="409.8" y1="1046.9" x2="652.5" y2="1046.9" stroke="#505050" stroke-width="1.9"/>
<line x1="447.9" y1="1046.9" x2="447.9" y2="1053.4" stroke="#5e5e5e" stroke-width="1.7"/>
<line x1="485.0" y1="1046.9" x2="485.0" y2="1053.4" stroke="#5e5e5e" stroke-width="1.7"/>
<line x1="522.1" y1="1046.9" x2="522.1" y2="1053.4" stroke="#5e5e5e" stroke-width="1.7"/>
<line x1="559.2" y1="1046.9" x2="559.2" y2="1053.4" stroke="#5e5e5e" stroke-width="1.7"/>
<line x1="596.3" y1="1046.9" x2="596.3" y2="1053.4" stroke="#5e5e5e" stroke-width="1.7"/>
<line x1="633.4" y1="1046.9" x2="633.4" y2="1053.4" stroke="#5e5e5e" stroke-width="1.7"/>
<text x="373.63" y="884.30" font-size="19.5" fill="#333333" stroke="#333333" stroke-width="0.3">700</text>
<text x="395.08" y="1053.10" font-size="19.5" fill="#333333" stroke="#333333" stroke-width="0.3">0</text>
<text x="389.11" y="1079.50" font-size="19.5" fill="#333333" stroke="#333333" stroke-width="0.3">2000</text>
<text x="463.31" y="1079.50" font-size="19.5" fill="#333333" stroke="#333333" stroke-width="0.3">2020</text>
<text x="537.51" y="1079.50" font-size="19.5" fill="#333333" stroke="#333333" stroke-width="0.3">2040</text>
<text x="611.71" y="1079.50" font-size="19.5" fill="#333333" stroke="#333333" stroke-width="0.3">2060</text>
<rect x="714.5" y="809.7" width="262.0" height="45.6" fill="#e9edf1"/>
<circle cx="714.5" cy="830.6" r="22.2" fill="#fff"/>
<circle cx="714.5" cy="830.6" r="16.0" fill="#d9dfe6" filter="url(#sh)"/>
<g transform="translate(714.5,830.6)" clip-path="url(#fc)"><rect x="-16" y="-16" width="32" height="32" fill="#fff"/><g transform="rotate(-30)"><circle r="6.6" fill="#1f3a7a"/><path d="M-6.6,0A6.6,6.6 0 0 1 6.6,0A3.3,3.3 0 0 1 0,0A3.3,3.3 0 0 0 -6.6,0Z" fill="#c8102e"/></g><g fill="#222"><rect x="-3" y="-2" width="6" height="4" transform="translate(-9.5,-8) rotate(-55)"/><rect x="-3" y="-2" width="6" height="4" transform="translate(9.5,-8) rotate(55)"/><rect x="-3" y="-2" width="6" height="4" transform="translate(-9.5,8) rotate(55)"/><rect x="-3" y="-2" width="6" height="4" transform="translate(9.5,8) rotate(-55)"/></g></g>
<text x="758.20" y="838.20" font-size="23.5" stroke="#333333" stroke-width="0.3" fill="#333333" textLength="176.78" lengthAdjust="spacingAndGlyphs">Republic of Korea</text>
<rect x="734.7" y="879.5" width="241.8" height="167.4" fill="#eff3f6"/>
<line x1="735.7" y1="903.4" x2="976.5" y2="903.4" stroke="#fcfdfe" stroke-width="1.5"/>
<line x1="735.7" y1="927.3" x2="976.5" y2="927.3" stroke="#fcfdfe" stroke-width="1.5"/>
<line x1="735.7" y1="951.2" x2="976.5" y2="951.2" stroke="#fcfdfe" stroke-width="1.5"/>
<line x1="735.7" y1="975.2" x2="976.5" y2="975.2" stroke="#fcfdfe" stroke-width="1.5"/>
<line x1="735.7" y1="999.1" x2="976.5" y2="999.1" stroke="#fcfdfe" stroke-width="1.5"/>
<line x1="735.7" y1="1023.0" x2="976.5" y2="1023.0" stroke="#fcfdfe" stroke-width="1.5"/>
<circle cx="920.2" cy="1046.9" r="19.4" fill="none" stroke="#f6921e" stroke-width="2.3"/><circle cx="920.2" cy="1046.9" r="13.5" fill="#f6921e"/><path d="M904.6,1031.3L935.8,1062.5M935.8,1031.3L904.6,1062.5" stroke="#fff" stroke-width="1.7"/>
<polyline points="820.8,900.3 845.2,913.9 860.9,926.7 863.5,928.4" fill="none" stroke="#000" stroke-width="5.8" stroke-linejoin="round" stroke-linecap="round"/><polygon points="873.6,935.4 857.6,934.4 866.9,920.8" fill="#000" stroke="#000" stroke-width="0.6" stroke-linejoin="miter"/>
<polyline points="734.8,938.4 738.7,934.5 743.6,927.6 749.4,924.7 757.2,921.8 763.1,915.9 769.0,914.9 770.9,901.2 774.8,893.4 782.7,887.6 793.4,889.5 801.2,879.7 805.1,886.6 808.1,897.3 812.0,891.5 815.9,894.4 820.8,899.3" fill="none" stroke="#00b1da" stroke-width="6.1" stroke-linejoin="round" stroke-linecap="round"/>
<path d="M845.6,931.0L854.0,939.4L845.6,947.8L837.2,939.4Z" fill="#cc233a"/>
<line x1="734.7" y1="879.5" x2="734.7" y2="1053.4" stroke="#666" stroke-width="1.9"/>
<line x1="733.7" y1="1046.9" x2="976.5" y2="1046.9" stroke="#505050" stroke-width="1.9"/>
<line x1="771.8" y1="1046.9" x2="771.8" y2="1053.4" stroke="#5e5e5e" stroke-width="1.7"/>
<line x1="808.9" y1="1046.9" x2="808.9" y2="1053.4" stroke="#5e5e5e" stroke-width="1.7"/>
<line x1="846.0" y1="1046.9" x2="846.0" y2="1053.4" stroke="#5e5e5e" stroke-width="1.7"/>
<line x1="883.1" y1="1046.9" x2="883.1" y2="1053.4" stroke="#5e5e5e" stroke-width="1.7"/>
<line x1="920.2" y1="1046.9" x2="920.2" y2="1053.4" stroke="#5e5e5e" stroke-width="1.7"/>
<line x1="957.3" y1="1046.9" x2="957.3" y2="1053.4" stroke="#5e5e5e" stroke-width="1.7"/>
<text x="697.53" y="884.30" font-size="19.5" fill="#333333" stroke="#333333" stroke-width="0.3">700</text>
<text x="718.98" y="1053.10" font-size="19.5" fill="#333333" stroke="#333333" stroke-width="0.3">0</text>
<text x="713.01" y="1079.50" font-size="19.5" fill="#333333" stroke="#333333" stroke-width="0.3">2000</text>
<text x="787.21" y="1079.50" font-size="19.5" fill="#333333" stroke="#333333" stroke-width="0.3">2020</text>
<text x="861.41" y="1079.50" font-size="19.5" fill="#333333" stroke="#333333" stroke-width="0.3">2040</text>
<text x="935.61" y="1079.50" font-size="19.5" fill="#333333" stroke="#333333" stroke-width="0.3">2060</text>
<rect x="1038.2" y="809.7" width="262.3" height="45.6" fill="#e9edf1"/>
<circle cx="1038.2" cy="831.6" r="22.2" fill="#fff"/>
<circle cx="1038.2" cy="831.6" r="16.0" fill="#d9dfe6" filter="url(#sh)"/>
<g transform="translate(1038.2,831.6)" clip-path="url(#fc)"><rect x="-16" y="-16" width="32" height="32" fill="#fafafa"/><rect x="-16" y="-5" width="32" height="10.3" fill="#1c3fa8"/><rect x="-16" y="5.3" width="32" height="11" fill="#d52b1e"/></g>
<text x="1075.00" y="836.90" font-size="23.5" stroke="#333333" stroke-width="0.3" fill="#333333" textLength="194.04" lengthAdjust="spacingAndGlyphs">Russian Federation</text>
<rect x="1058.6" y="879.5" width="241.9" height="167.4" fill="#eff3f6"/>
<line x1="1059.6" y1="913.0" x2="1300.5" y2="913.0" stroke="#fcfdfe" stroke-width="1.5"/>
<line x1="1059.6" y1="946.5" x2="1300.5" y2="946.5" stroke="#fcfdfe" stroke-width="1.5"/>
<line x1="1059.6" y1="979.9" x2="1300.5" y2="979.9" stroke="#fcfdfe" stroke-width="1.5"/>
<line x1="1059.6" y1="1013.4" x2="1300.5" y2="1013.4" stroke="#fcfdfe" stroke-width="1.5"/>
<circle cx="1281.2" cy="1046.9" r="19.4" fill="none" stroke="#66ab71" stroke-width="2.3"/><circle cx="1281.2" cy="1046.9" r="13.5" fill="#66ab71"/><path d="M1265.6,1031.3L1296.8,1062.5M1296.8,1031.3L1265.6,1062.5" stroke="#fff" stroke-width="1.7"/>
<polyline points="1144.8,942.3 1169.2,935.4 1184.9,938.4 1187.3,938.8" fill="none" stroke="#000" stroke-width="5.8" stroke-linejoin="round" stroke-linecap="round"/><polygon points="1199.5,940.7 1184.6,946.7 1187.2,930.4" fill="#000" stroke="#000" stroke-width="0.6" stroke-linejoin="miter"/>
<polyline points="1058.8,954.0 1065.6,958.9 1072.4,956.0 1077.3,955.0 1080.3,950.1 1088.1,952.1 1091.0,967.7 1098.8,954.0 1104.7,954.0 1109.6,958.9 1113.5,954.0 1117.4,957.9 1123.3,948.2 1128.2,946.2 1132.1,953.0 1135.0,940.3 1138.9,945.2 1144.8,941.3" fill="none" stroke="#00b1da" stroke-width="6.1" stroke-linejoin="round" stroke-linecap="round"/>
<path d="M1169.2,890.3L1177.6,898.7L1169.2,907.1L1160.8,898.7Z" fill="#cc233a"/>
<path d="M1187.8,902.0L1196.2,910.4L1187.8,918.8L1179.4,910.4Z" fill="#cc233a"/>
<line x1="1058.6" y1="879.5" x2="1058.6" y2="1053.4" stroke="#666" stroke-width="1.9"/>
<line x1="1057.6" y1="1046.9" x2="1300.5" y2="1046.9" stroke="#505050" stroke-width="1.9"/>
<line x1="1095.7" y1="1046.9" x2="1095.7" y2="1053.4" stroke="#5e5e5e" stroke-width="1.7"/>
<line x1="1132.8" y1="1046.9" x2="1132.8" y2="1053.4" stroke="#5e5e5e" stroke-width="1.7"/>
<line x1="1169.9" y1="1046.9" x2="1169.9" y2="1053.4" stroke="#5e5e5e" stroke-width="1.7"/>
<line x1="1207.0" y1="1046.9" x2="1207.0" y2="1053.4" stroke="#5e5e5e" stroke-width="1.7"/>
<line x1="1244.1" y1="1046.9" x2="1244.1" y2="1053.4" stroke="#5e5e5e" stroke-width="1.7"/>
<line x1="1281.2" y1="1046.9" x2="1281.2" y2="1053.4" stroke="#5e5e5e" stroke-width="1.7"/>
<text x="1008.33" y="884.30" font-size="19.5" stroke="#333333" stroke-width="0.3" fill="#333333" textLength="45.63" lengthAdjust="spacingAndGlyphs">2,500</text>
<text x="1042.88" y="1053.10" font-size="19.5" fill="#333333" stroke="#333333" stroke-width="0.3">0</text>
<text x="1036.91" y="1079.50" font-size="19.5" fill="#333333" stroke="#333333" stroke-width="0.3">2000</text>
<text x="1111.11" y="1079.50" font-size="19.5" fill="#333333" stroke="#333333" stroke-width="0.3">2020</text>
<text x="1185.31" y="1079.50" font-size="19.5" fill="#333333" stroke="#333333" stroke-width="0.3">2040</text>
<text x="1259.51" y="1079.50" font-size="19.5" fill="#333333" stroke="#333333" stroke-width="0.3">2060</text>
<rect x="64.8" y="1128.1" width="263.7" height="45.6" fill="#e9edf1"/>
<circle cx="64.8" cy="1151.2" r="22.2" fill="#fff"/>
<circle cx="64.8" cy="1151.2" r="16.0" fill="#d9dfe6" filter="url(#sh)"/>
<g transform="translate(64.8,1151.2)" clip-path="url(#fc)"><rect x="-16" y="-16" width="32" height="32" fill="#157a3c"/><path d="M-9,-4.5H9M-8.5,-1.5H8.5M-9,-6V-2M-6,-8V-2M-3,-7V-2M0,-8V-2M3,-7V-2M6,-8V-2M8.5,-6V-2" stroke="#fff" stroke-width="1.1"/><path d="M-7,4.5Q0,3.6 7.5,4.5" stroke="#fff" stroke-width="1.1" fill="none"/></g>
<text x="102.30" y="1158.70" font-size="23.5" stroke="#333333" stroke-width="0.3" fill="#333333" textLength="126.61" lengthAdjust="spacingAndGlyphs">Saudi Arabia</text>
<rect x="86.9" y="1199.0" width="241.6" height="167.5" fill="#eff3f6"/>
<line x1="87.9" y1="1240.9" x2="328.5" y2="1240.9" stroke="#fcfdfe" stroke-width="1.5"/>
<line x1="87.9" y1="1282.8" x2="328.5" y2="1282.8" stroke="#fcfdfe" stroke-width="1.5"/>
<line x1="87.9" y1="1324.6" x2="328.5" y2="1324.6" stroke="#fcfdfe" stroke-width="1.5"/>
<circle cx="309.5" cy="1366.5" r="19.4" fill="none" stroke="#f6921e" stroke-width="2.3"/><circle cx="309.5" cy="1366.5" r="13.5" fill="#f6921e"/><path d="M293.9,1350.9L325.1,1382.1M325.1,1350.9L293.9,1382.1" stroke="#fff" stroke-width="1.7"/>
<polyline points="173.8,1210.5 198.2,1196.8 212.9,1202.7 216.4,1203.3" fill="none" stroke="#000" stroke-width="5.8" stroke-linejoin="round" stroke-linecap="round"/><polygon points="228.5,1205.2 213.6,1211.2 216.2,1194.9" fill="#000" stroke="#000" stroke-width="0.6" stroke-linejoin="miter"/>
<polyline points="87.7,1303.3 90.7,1301.4 94.6,1294.5 98.5,1292.6 101.4,1278.9 105.3,1277.0 109.2,1269.1 114.1,1277.0 118.0,1266.2 121.0,1260.3 123.9,1248.6 127.8,1254.5 131.7,1243.7 136.6,1248.6 142.5,1224.2 146.4,1220.3 150.3,1222.8 157.1,1214.4 162.0,1229.1 165.9,1225.1 168.9,1216.3 173.8,1210.5" fill="none" stroke="#00b1da" stroke-width="6.1" stroke-linejoin="round" stroke-linecap="round"/>
<path d="M198.2,1229.5L206.6,1237.9L198.2,1246.3L189.8,1237.9Z" fill="#cc233a"/>
<line x1="86.9" y1="1199.0" x2="86.9" y2="1373.0" stroke="#666" stroke-width="1.9"/>
<line x1="85.9" y1="1366.5" x2="328.5" y2="1366.5" stroke="#505050" stroke-width="1.9"/>
<line x1="124.0" y1="1366.5" x2="124.0" y2="1373.0" stroke="#5e5e5e" stroke-width="1.7"/>
<line x1="161.1" y1="1366.5" x2="161.1" y2="1373.0" stroke="#5e5e5e" stroke-width="1.7"/>
<line x1="198.2" y1="1366.5" x2="198.2" y2="1373.0" stroke="#5e5e5e" stroke-width="1.7"/>
<line x1="235.3" y1="1366.5" x2="235.3" y2="1373.0" stroke="#5e5e5e" stroke-width="1.7"/>
<line x1="272.4" y1="1366.5" x2="272.4" y2="1373.0" stroke="#5e5e5e" stroke-width="1.7"/>
<line x1="309.5" y1="1366.5" x2="309.5" y2="1373.0" stroke="#5e5e5e" stroke-width="1.7"/>
<text x="49.74" y="1203.80" font-size="19.5" fill="#333333" stroke="#333333" stroke-width="0.3">800</text>
<text x="71.18" y="1372.70" font-size="19.5" fill="#333333" stroke="#333333" stroke-width="0.3">0</text>
<text x="65.21" y="1399.10" font-size="19.5" fill="#333333" stroke="#333333" stroke-width="0.3">2000</text>
<text x="139.41" y="1399.10" font-size="19.5" fill="#333333" stroke="#333333" stroke-width="0.3">2020</text>
<text x="213.61" y="1399.10" font-size="19.5" fill="#333333" stroke="#333333" stroke-width="0.3">2040</text>
<text x="287.81" y="1399.10" font-size="19.5" fill="#333333" stroke="#333333" stroke-width="0.3">2060</text>
<rect x="390.9" y="1128.1" width="261.6" height="45.6" fill="#e9edf1"/>
<circle cx="390.9" cy="1151.2" r="22.2" fill="#fff"/>
<circle cx="390.9" cy="1151.2" r="16.0" fill="#d9dfe6" filter="url(#sh)"/>
<g transform="translate(390.9,1151.2)" clip-path="url(#fc)"><rect x="-16" y="-16" width="32" height="16" fill="#e02a14"/><rect x="-16" y="0" width="32" height="16" fill="#1f3e91"/><path d="M-16,-12.5L-3,-1.2H16V1.2H-3L-16,12.5" fill="none" stroke="#fff" stroke-width="8.5"/><path d="M-16,-12.5L-3,-1.2H16V1.2H-3L-16,12.5" fill="none" stroke="#3e9a3a" stroke-width="5.5"/><path d="M-16,-8.5L-7.5,0L-16,8.5Z" fill="#f6cd1a"/><path d="M-16,-6L-10,0L-16,6Z" fill="#111"/></g>
<text x="428.80" y="1160.00" font-size="23.5" stroke="#333333" stroke-width="0.3" fill="#333333" textLength="123.64" lengthAdjust="spacingAndGlyphs">South Africa</text>
<rect x="410.8" y="1199.0" width="241.7" height="167.5" fill="#eff3f6"/>
<line x1="411.8" y1="1226.9" x2="652.5" y2="1226.9" stroke="#fcfdfe" stroke-width="1.5"/>
<line x1="411.8" y1="1254.8" x2="652.5" y2="1254.8" stroke="#fcfdfe" stroke-width="1.5"/>
<line x1="411.8" y1="1282.8" x2="652.5" y2="1282.8" stroke="#fcfdfe" stroke-width="1.5"/>
<line x1="411.8" y1="1310.7" x2="652.5" y2="1310.7" stroke="#fcfdfe" stroke-width="1.5"/>
<line x1="411.8" y1="1338.6" x2="652.5" y2="1338.6" stroke="#fcfdfe" stroke-width="1.5"/>
<circle cx="596.3" cy="1366.5" r="19.4" fill="none" stroke="#f6921e" stroke-width="2.3"/><circle cx="596.3" cy="1366.5" r="13.5" fill="#f6921e"/><path d="M580.7,1350.9L611.9,1382.1M611.9,1350.9L580.7,1382.1" stroke="#fff" stroke-width="1.7"/>
<polyline points="496.8,1244.7 522.2,1255.4 536.9,1261.3 540.3,1261.7" fill="none" stroke="#000" stroke-width="5.8" stroke-linejoin="round" stroke-linecap="round"/><polygon points="552.5,1263.3 537.8,1269.7 539.9,1253.4" fill="#000" stroke="#000" stroke-width="0.6" stroke-linejoin="miter"/>
<polyline points="410.8,1239.8 417.6,1233.9 422.5,1233.9 428.3,1222.2 432.3,1226.1 440.1,1219.3 445.0,1220.3 451.8,1227.1 455.7,1224.2 458.7,1231.0 465.5,1224.2 469.4,1230.0 477.2,1225.1 481.1,1233.9 484.1,1243.7 489.0,1235.9 491.9,1244.7 496.8,1244.7" fill="none" stroke="#00b1da" stroke-width="6.1" stroke-linejoin="round" stroke-linecap="round"/>
<path d="M521.6,1250.5L528.5,1257.4L521.6,1264.3L514.7,1257.4Z" fill="none" stroke="#ecbe00" stroke-width="2.6" stroke-linejoin="miter"/>
<line x1="410.8" y1="1199.0" x2="410.8" y2="1373.0" stroke="#666" stroke-width="1.9"/>
<line x1="409.8" y1="1366.5" x2="652.5" y2="1366.5" stroke="#505050" stroke-width="1.9"/>
<line x1="447.9" y1="1366.5" x2="447.9" y2="1373.0" stroke="#5e5e5e" stroke-width="1.7"/>
<line x1="485.0" y1="1366.5" x2="485.0" y2="1373.0" stroke="#5e5e5e" stroke-width="1.7"/>
<line x1="522.1" y1="1366.5" x2="522.1" y2="1373.0" stroke="#5e5e5e" stroke-width="1.7"/>
<line x1="559.2" y1="1366.5" x2="559.2" y2="1373.0" stroke="#5e5e5e" stroke-width="1.7"/>
<line x1="596.3" y1="1366.5" x2="596.3" y2="1373.0" stroke="#5e5e5e" stroke-width="1.7"/>
<line x1="633.4" y1="1366.5" x2="633.4" y2="1373.0" stroke="#5e5e5e" stroke-width="1.7"/>
<text x="373.63" y="1203.80" font-size="19.5" fill="#333333" stroke="#333333" stroke-width="0.3">600</text>
<text x="395.08" y="1372.70" font-size="19.5" fill="#333333" stroke="#333333" stroke-width="0.3">0</text>
<text x="389.11" y="1399.10" font-size="19.5" fill="#333333" stroke="#333333" stroke-width="0.3">2000</text>
<text x="463.31" y="1399.10" font-size="19.5" fill="#333333" stroke="#333333" stroke-width="0.3">2020</text>
<text x="537.51" y="1399.10" font-size="19.5" fill="#333333" stroke="#333333" stroke-width="0.3">2040</text>
<text x="611.71" y="1399.10" font-size="19.5" fill="#333333" stroke="#333333" stroke-width="0.3">2060</text>
<rect x="714.5" y="1128.1" width="262.0" height="45.6" fill="#e9edf1"/>
<circle cx="714.5" cy="1151.2" r="22.2" fill="#fff"/>
<circle cx="714.5" cy="1151.2" r="16.0" fill="#d9dfe6" filter="url(#sh)"/>
<g transform="translate(714.5,1151.2)" clip-path="url(#fc)"><rect x="-16" y="-16" width="32" height="32" fill="#d42e1a"/><circle cx="-3.4" r="7.6" fill="#fff"/><circle cx="-1.6" r="5.9" fill="#d42e1a"/><polygon points="1.60,-0.00 4.09,-0.81 4.09,-3.42 5.62,-1.31 8.11,-2.12 6.58,0.00 8.11,2.12 5.62,1.31 4.09,3.42 4.09,0.81" fill="#fff"/></g>
<text x="752.60" y="1160.00" font-size="23.5" stroke="#333333" stroke-width="0.3" fill="#333333" textLength="73.07" lengthAdjust="spacingAndGlyphs">Türkiye</text>
<rect x="734.7" y="1199.0" width="241.8" height="167.5" fill="#eff3f6"/>
<line x1="735.7" y1="1222.9" x2="976.5" y2="1222.9" stroke="#fcfdfe" stroke-width="1.5"/>
<line x1="735.7" y1="1246.9" x2="976.5" y2="1246.9" stroke="#fcfdfe" stroke-width="1.5"/>
<line x1="735.7" y1="1270.8" x2="976.5" y2="1270.8" stroke="#fcfdfe" stroke-width="1.5"/>
<line x1="735.7" y1="1294.7" x2="976.5" y2="1294.7" stroke="#fcfdfe" stroke-width="1.5"/>
<line x1="735.7" y1="1318.6" x2="976.5" y2="1318.6" stroke="#fcfdfe" stroke-width="1.5"/>
<line x1="735.7" y1="1342.6" x2="976.5" y2="1342.6" stroke="#fcfdfe" stroke-width="1.5"/>
<circle cx="931.3" cy="1366.5" r="19.4" fill="none" stroke="#66ab71" stroke-width="2.3"/><circle cx="931.3" cy="1366.5" r="13.5" fill="#66ab71"/><path d="M915.8,1350.9L946.9,1382.1M946.9,1350.9L915.8,1382.1" stroke="#fff" stroke-width="1.7"/>
<polyline points="820.8,1251.5 864.1,1233.8" fill="none" stroke="#000" stroke-width="5.8" stroke-linejoin="round" stroke-linecap="round"/><polygon points="875.5,1229.1 865.9,1242.0 859.6,1226.7" fill="#000" stroke="#000" stroke-width="0.6" stroke-linejoin="miter"/>
<polyline points="735.3,1309.2 737.7,1297.5 741.6,1313.1 749.4,1306.3 755.3,1298.5 760.2,1287.7 770.9,1286.7 777.8,1275.0 782.7,1277.9 789.5,1269.1 796.3,1257.4 805.1,1258.4 808.1,1251.5 812.0,1239.8 815.9,1244.7 820.8,1251.5" fill="none" stroke="#00b1da" stroke-width="6.1" stroke-linejoin="round" stroke-linecap="round"/>
<path d="M845.2,1190.4L853.6,1198.8L845.2,1207.2L836.8,1198.8Z" fill="#cc233a"/>
<path d="M863.8,1204.0L872.2,1212.4L863.8,1220.8L855.4,1212.4Z" fill="#cc233a"/>
<line x1="734.7" y1="1199.0" x2="734.7" y2="1373.0" stroke="#666" stroke-width="1.9"/>
<line x1="733.7" y1="1366.5" x2="976.5" y2="1366.5" stroke="#505050" stroke-width="1.9"/>
<line x1="771.8" y1="1366.5" x2="771.8" y2="1373.0" stroke="#5e5e5e" stroke-width="1.7"/>
<line x1="808.9" y1="1366.5" x2="808.9" y2="1373.0" stroke="#5e5e5e" stroke-width="1.7"/>
<line x1="846.0" y1="1366.5" x2="846.0" y2="1373.0" stroke="#5e5e5e" stroke-width="1.7"/>
<line x1="883.1" y1="1366.5" x2="883.1" y2="1373.0" stroke="#5e5e5e" stroke-width="1.7"/>
<line x1="920.2" y1="1366.5" x2="920.2" y2="1373.0" stroke="#5e5e5e" stroke-width="1.7"/>
<line x1="957.3" y1="1366.5" x2="957.3" y2="1373.0" stroke="#5e5e5e" stroke-width="1.7"/>
<text x="697.53" y="1203.80" font-size="19.5" fill="#333333" stroke="#333333" stroke-width="0.3">700</text>
<text x="718.98" y="1372.70" font-size="19.5" fill="#333333" stroke="#333333" stroke-width="0.3">0</text>
<text x="713.01" y="1399.10" font-size="19.5" fill="#333333" stroke="#333333" stroke-width="0.3">2000</text>
<text x="787.21" y="1399.10" font-size="19.5" fill="#333333" stroke="#333333" stroke-width="0.3">2020</text>
<text x="861.41" y="1399.10" font-size="19.5" fill="#333333" stroke="#333333" stroke-width="0.3">2040</text>
<text x="935.61" y="1399.10" font-size="19.5" fill="#333333" stroke="#333333" stroke-width="0.3">2060</text>
<rect x="1038.2" y="1128.1" width="262.3" height="45.6" fill="#e9edf1"/>
<circle cx="1038.2" cy="1151.2" r="22.2" fill="#fff"/>
<circle cx="1038.2" cy="1151.2" r="16.0" fill="#d9dfe6" filter="url(#sh)"/>
<g transform="translate(1038.2,1151.2)" clip-path="url(#fc)"><rect x="-16" y="-16" width="32" height="32" fill="#25307a"/><path d="M-16,-16L16,16M16,-16L-16,16" stroke="#fff" stroke-width="5.5"/><path d="M-16,-16L16,16M16,-16L-16,16" stroke="#d80c18" stroke-width="1.8"/><path d="M0,-16V16M-16,0H16" stroke="#fff" stroke-width="7.5"/><path d="M0,-16V16M-16,0H16" stroke="#d80c18" stroke-width="4.5"/></g>
<text x="1076.30" y="1160.90" font-size="23.5" stroke="#333333" stroke-width="0.3" fill="#333333" textLength="160.61" lengthAdjust="spacingAndGlyphs">United Kingdom</text>
<rect x="1058.6" y="1199.0" width="241.9" height="167.5" fill="#eff3f6"/>
<line x1="1059.6" y1="1240.9" x2="1300.5" y2="1240.9" stroke="#fcfdfe" stroke-width="1.5"/>
<line x1="1059.6" y1="1282.8" x2="1300.5" y2="1282.8" stroke="#fcfdfe" stroke-width="1.5"/>
<line x1="1059.6" y1="1324.6" x2="1300.5" y2="1324.6" stroke="#fcfdfe" stroke-width="1.5"/>
<circle cx="1244.1" cy="1366.5" r="19.4" fill="none" stroke="#66ab71" stroke-width="2.3"/><circle cx="1244.1" cy="1366.5" r="13.5" fill="#66ab71"/><path d="M1228.5,1350.9L1259.7,1382.1M1259.7,1350.9L1228.5,1382.1" stroke="#fff" stroke-width="1.7"/>
<polyline points="1144.8,1286.7 1170.2,1300.4 1184.9,1307.3 1187.5,1308.6" fill="none" stroke="#000" stroke-width="5.8" stroke-linejoin="round" stroke-linecap="round"/><polygon points="1198.5,1314.1 1182.5,1315.3 1189.8,1300.5" fill="#000" stroke="#000" stroke-width="0.6" stroke-linejoin="miter"/>
<polyline points="1059.3,1214.4 1062.7,1214.4 1065.6,1219.3 1070.5,1217.3 1077.3,1220.3 1084.2,1225.1 1088.1,1231.0 1090.0,1240.8 1094.9,1238.8 1098.8,1247.6 1102.7,1244.7 1106.7,1248.6 1109.6,1257.4 1113.5,1261.3 1118.4,1268.2 1125.2,1270.1 1129.1,1275.0 1132.1,1283.4 1136.0,1278.9 1139.9,1281.8 1144.8,1285.8" fill="none" stroke="#00b1da" stroke-width="6.1" stroke-linejoin="round" stroke-linecap="round"/>
<path d="M1169.2,1303.2L1177.6,1311.6L1169.2,1320.0L1160.8,1311.6Z" fill="#cc233a"/>
<path d="M1187.8,1325.3L1196.2,1333.7L1187.8,1342.1L1179.4,1333.7Z" fill="#cc233a"/>
<line x1="1058.6" y1="1199.0" x2="1058.6" y2="1373.0" stroke="#666" stroke-width="1.9"/>
<line x1="1057.6" y1="1366.5" x2="1300.5" y2="1366.5" stroke="#505050" stroke-width="1.9"/>
<line x1="1095.7" y1="1366.5" x2="1095.7" y2="1373.0" stroke="#5e5e5e" stroke-width="1.7"/>
<line x1="1132.8" y1="1366.5" x2="1132.8" y2="1373.0" stroke="#5e5e5e" stroke-width="1.7"/>
<line x1="1169.9" y1="1366.5" x2="1169.9" y2="1373.0" stroke="#5e5e5e" stroke-width="1.7"/>
<line x1="1207.0" y1="1366.5" x2="1207.0" y2="1373.0" stroke="#5e5e5e" stroke-width="1.7"/>
<line x1="1244.1" y1="1366.5" x2="1244.1" y2="1373.0" stroke="#5e5e5e" stroke-width="1.7"/>
<line x1="1281.2" y1="1366.5" x2="1281.2" y2="1373.0" stroke="#5e5e5e" stroke-width="1.7"/>
<text x="1021.43" y="1203.80" font-size="19.5" fill="#333333" stroke="#333333" stroke-width="0.3">800</text>
<text x="1042.88" y="1372.70" font-size="19.5" fill="#333333" stroke="#333333" stroke-width="0.3">0</text>
<text x="1036.91" y="1399.10" font-size="19.5" fill="#333333" stroke="#333333" stroke-width="0.3">2000</text>
<text x="1111.11" y="1399.10" font-size="19.5" fill="#333333" stroke="#333333" stroke-width="0.3">2020</text>
<text x="1185.31" y="1399.10" font-size="19.5" fill="#333333" stroke="#333333" stroke-width="0.3">2040</text>
<text x="1259.51" y="1399.10" font-size="19.5" fill="#333333" stroke="#333333" stroke-width="0.3">2060</text>
<rect x="64.5" y="1448.9" width="264.0" height="45.6" fill="#e9edf1"/>
<circle cx="64.5" cy="1471.3" r="22.2" fill="#fff"/>
<circle cx="64.5" cy="1471.3" r="16.0" fill="#d9dfe6" filter="url(#sh)"/>
<g transform="translate(64.5,1471.3)" clip-path="url(#fc)"><rect x="-16" y="-16" width="32" height="32" fill="#fff"/><rect x="-16" y="-16.00" width="32" height="2.46" fill="#d42a35"/><rect x="-16" y="-11.08" width="32" height="2.46" fill="#d42a35"/><rect x="-16" y="-6.15" width="32" height="2.46" fill="#d42a35"/><rect x="-16" y="-1.23" width="32" height="2.46" fill="#d42a35"/><rect x="-16" y="3.69" width="32" height="2.46" fill="#d42a35"/><rect x="-16" y="8.62" width="32" height="2.46" fill="#d42a35"/><rect x="-16" y="13.54" width="32" height="2.46" fill="#d42a35"/><rect x="-16" y="-16" width="16" height="13.8" fill="#3b4b93"/><path d="M-14,-13.5H-1M-14,-11H-1M-14,-8.5H-1M-14,-6H-1M-14,-3.5H-1" stroke="#d8def2" stroke-width="0.9" stroke-dasharray="0.9 1.1"/></g>
<text x="96.50" y="1479.70" font-size="23.5" stroke="#333333" stroke-width="0.3" fill="#333333" textLength="226.11" lengthAdjust="spacingAndGlyphs">United States of America</text>
<rect x="86.9" y="1518.8" width="241.6" height="167.3" fill="#eff3f6"/>
<line x1="87.9" y1="1542.7" x2="328.5" y2="1542.7" stroke="#fcfdfe" stroke-width="1.5"/>
<line x1="87.9" y1="1566.6" x2="328.5" y2="1566.6" stroke="#fcfdfe" stroke-width="1.5"/>
<line x1="87.9" y1="1590.5" x2="328.5" y2="1590.5" stroke="#fcfdfe" stroke-width="1.5"/>
<line x1="87.9" y1="1614.4" x2="328.5" y2="1614.4" stroke="#fcfdfe" stroke-width="1.5"/>
<line x1="87.9" y1="1638.3" x2="328.5" y2="1638.3" stroke="#fcfdfe" stroke-width="1.5"/>
<line x1="87.9" y1="1662.2" x2="328.5" y2="1662.2" stroke="#fcfdfe" stroke-width="1.5"/>
<polyline points="173.8,1558.8 198.2,1565.7 212.9,1571.5 216.6,1572.4" fill="none" stroke="#000" stroke-width="5.8" stroke-linejoin="round" stroke-linecap="round"/><polygon points="228.5,1575.4 213.1,1580.1 217.1,1564.0" fill="#000" stroke="#000" stroke-width="0.6" stroke-linejoin="miter"/>
<polyline points="88.1,1534.4 91.6,1534.4 97.5,1532.4 102.4,1527.6 108.3,1530.5 113.1,1527.6 117.1,1533.4 120.6,1542.8 123.9,1538.3 127.8,1544.2 131.7,1549.1 136.6,1543.2 141.5,1545.1 146.4,1552.0 150.3,1552.0 154.2,1547.1 159.1,1550.0 161.0,1564.7 165.0,1557.9 168.9,1554.9 173.8,1558.8" fill="none" stroke="#00b1da" stroke-width="6.1" stroke-linejoin="round" stroke-linecap="round"/>
<path d="M198.2,1594.0L206.6,1602.4L198.2,1610.8L189.8,1602.4Z" fill="#cc233a"/>
<path d="M216.8,1615.9L225.2,1624.3L216.8,1632.7L208.4,1624.3Z" fill="#cc233a"/>
<line x1="86.9" y1="1518.8" x2="86.9" y2="1692.6" stroke="#666" stroke-width="1.9"/>
<line x1="85.9" y1="1686.1" x2="328.5" y2="1686.1" stroke="#505050" stroke-width="1.9"/>
<line x1="124.0" y1="1686.1" x2="124.0" y2="1692.6" stroke="#5e5e5e" stroke-width="1.7"/>
<line x1="161.1" y1="1686.1" x2="161.1" y2="1692.6" stroke="#5e5e5e" stroke-width="1.7"/>
<line x1="198.2" y1="1686.1" x2="198.2" y2="1692.6" stroke="#5e5e5e" stroke-width="1.7"/>
<line x1="235.3" y1="1686.1" x2="235.3" y2="1692.6" stroke="#5e5e5e" stroke-width="1.7"/>
<line x1="272.4" y1="1686.1" x2="272.4" y2="1692.6" stroke="#5e5e5e" stroke-width="1.7"/>
<line x1="309.5" y1="1686.1" x2="309.5" y2="1692.6" stroke="#5e5e5e" stroke-width="1.7"/>
<text x="36.63" y="1523.60" font-size="19.5" stroke="#333333" stroke-width="0.3" fill="#333333" textLength="45.63" lengthAdjust="spacingAndGlyphs">7,000</text>
<text x="71.18" y="1692.30" font-size="19.5" fill="#333333" stroke="#333333" stroke-width="0.3">0</text>
<text x="65.21" y="1718.70" font-size="19.5" fill="#333333" stroke="#333333" stroke-width="0.3">2000</text>
<text x="139.41" y="1718.70" font-size="19.5" fill="#333333" stroke="#333333" stroke-width="0.3">2020</text>
<text x="213.61" y="1718.70" font-size="19.5" fill="#333333" stroke="#333333" stroke-width="0.3">2040</text>
<text x="287.81" y="1718.70" font-size="19.5" fill="#333333" stroke="#333333" stroke-width="0.3">2060</text>
<line x1="431.5" y1="1519.2" x2="472.2" y2="1519.2" stroke="#00b1da" stroke-width="6.6" stroke-linecap="round"/>
<line x1="431.5" y1="1568" x2="466" y2="1568" stroke="#000" stroke-width="6.6" stroke-linecap="round"/>
<polygon points="464.2,1559.4 478.8,1568 464.2,1576.6" fill="#000"/>
<text x="490.20" y="1526.10" font-size="23.5" stroke="#333333" stroke-width="0.3" fill="#333333" textLength="148.01" lengthAdjust="spacingAndGlyphs">Historical data</text>
<text x="490.20" y="1576.50" font-size="23.5" stroke="#333333" stroke-width="0.3" fill="#333333" textLength="141.08" lengthAdjust="spacingAndGlyphs">Current policy</text>
<path d="M709.4,1509.9L718.2,1518.7L709.4,1527.5L700.6,1518.7Z" fill="#cc233a"/>
<path d="M709.5,1561.5L716.5,1568.5L709.5,1575.5L702.5,1568.5Z" fill="none" stroke="#ecbe00" stroke-width="2.8" stroke-linejoin="miter"/>
<text x="732.60" y="1526.20" font-size="23.5" stroke="#333333" stroke-width="0.3" fill="#333333" textLength="205.78" lengthAdjust="spacingAndGlyphs">NDC (unconditional)</text>
<text x="733.00" y="1576.70" font-size="23.5" stroke="#333333" stroke-width="0.3" fill="#333333" textLength="181.04" lengthAdjust="spacingAndGlyphs">NDC (conditional)</text>
<circle cx="1023.5" cy="1519.1" r="19.4" fill="none" stroke="#66ab71" stroke-width="2.3"/><circle cx="1023.5" cy="1519.1" r="13.5" fill="#66ab71"/><path d="M1007.9,1503.5L1039.1,1534.7M1039.1,1503.5L1007.9,1534.7" stroke="#fff" stroke-width="1.7"/>
<circle cx="1023.5" cy="1581.3" r="19.4" fill="none" stroke="#f6921e" stroke-width="2.3"/><circle cx="1023.5" cy="1581.3" r="13.5" fill="#f6921e"/><path d="M1007.9,1565.7L1039.1,1596.9M1039.1,1565.7L1007.9,1596.9" stroke="#fff" stroke-width="1.7"/>
<text x="1057.20" y="1528.00" font-size="23.5" stroke="#333333" stroke-width="0.3" fill="#333333" textLength="218.41" lengthAdjust="spacingAndGlyphs">Net-zero GHG targets</text>
<text x="1057.20" y="1574.90" font-size="23.5" stroke="#333333" stroke-width="0.3" fill="#333333" textLength="217.47" lengthAdjust="spacingAndGlyphs">Net-zero with unclear</text>
<text x="1057.20" y="1600.20" font-size="23.5" stroke="#333333" stroke-width="0.3" fill="#333333" textLength="57.64" lengthAdjust="spacingAndGlyphs">or CO</text>
<text x="1115.9" y="1606.4" font-size="13" fill="#333333" stroke="#333333" stroke-width="0.25">2</text>
<text x="1127.00" y="1600.20" font-size="23.5" stroke="#333333" stroke-width="0.3" fill="#333333" textLength="143.63" lengthAdjust="spacingAndGlyphs">only coverage</text>
</svg>
</body></html>
